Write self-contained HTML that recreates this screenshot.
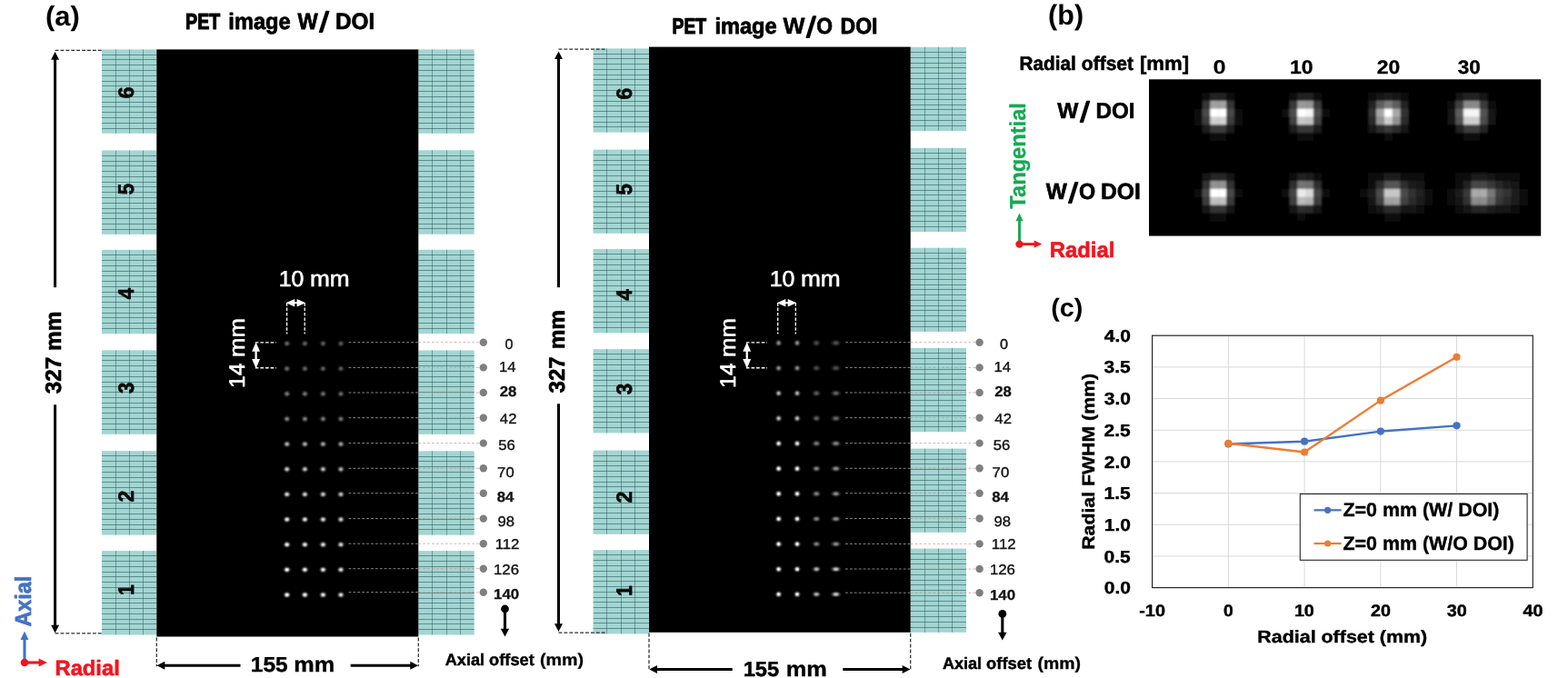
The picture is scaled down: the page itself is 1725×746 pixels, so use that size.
<!DOCTYPE html>
<html lang="en">
<head>
<meta charset="utf-8">
<title>PET image with and without DOI</title>
<style>
html,body{margin:0;padding:0;background:#fff;}
body{width:1725px;height:746px;overflow:hidden;}
svg{display:block;font-family:"Liberation Sans",sans-serif;}
</style>
</head>
<body>
<svg width="1725" height="746" viewBox="0 0 1725 746" text-rendering="geometricPrecision">
<defs><radialGradient id="g"><stop offset="0" stop-color="#fff" stop-opacity="1"/><stop offset="0.3" stop-color="#fff" stop-opacity="0.85"/><stop offset="0.6" stop-color="#fff" stop-opacity="0.32"/><stop offset="1" stop-color="#fff" stop-opacity="0"/></radialGradient><filter id="bl" x="-5%" y="-5%" width="110%" height="110%"><feGaussianBlur stdDeviation="0.9"/></filter></defs>
<rect width="1725" height="746" fill="#fff"/>
<g id="panel-a1">
<rect x="112" y="54.4" width="60.3" height="92.4" fill="#a3d5d2"/>
<path d="M112 60.5H172.3M112 65.5H172.3M112 71.5H172.3M112 77.5H172.3M112 83.5H172.3M112 89.5H172.3M112 94.5H172.3M112 100.5H172.3M112 106.5H172.3M112 112.5H172.3M112 117.5H172.3M112 123.5H172.3M112 129.5H172.3M112 135.5H172.3M112 141.5H172.3" stroke="#2b5e61" stroke-width="1" fill="none" opacity="0.6"/>
<path d="M127.5 54.4V146.8M142.5 54.4V146.8M157.5 54.4V146.8" stroke="#2b5e61" stroke-width="1" fill="none" opacity="0.5"/>
<rect x="460.3" y="54.4" width="61.4" height="92.4" fill="#a3d5d2"/>
<path d="M460.3 60.5H521.7M460.3 65.5H521.7M460.3 71.5H521.7M460.3 77.5H521.7M460.3 83.5H521.7M460.3 89.5H521.7M460.3 94.5H521.7M460.3 100.5H521.7M460.3 106.5H521.7M460.3 112.5H521.7M460.3 117.5H521.7M460.3 123.5H521.7M460.3 129.5H521.7M460.3 135.5H521.7M460.3 141.5H521.7" stroke="#2b5e61" stroke-width="1" fill="none" opacity="0.6"/>
<path d="M475.5 54.4V146.8M491.5 54.4V146.8M506.5 54.4V146.8" stroke="#2b5e61" stroke-width="1" fill="none" opacity="0.5"/>
<rect x="112" y="165.5" width="60.3" height="92.4" fill="#a3d5d2"/>
<path d="M112 171.5H172.3M112 177.5H172.3M112 182.5H172.3M112 188.5H172.3M112 194.5H172.3M112 200.5H172.3M112 205.5H172.3M112 211.5H172.3M112 217.5H172.3M112 223.5H172.3M112 229.5H172.3M112 234.5H172.3M112 240.5H172.3M112 246.5H172.3M112 252.5H172.3" stroke="#2b5e61" stroke-width="1" fill="none" opacity="0.6"/>
<path d="M127.5 165.5V257.9M142.5 165.5V257.9M157.5 165.5V257.9" stroke="#2b5e61" stroke-width="1" fill="none" opacity="0.5"/>
<rect x="460.3" y="165.3" width="61.4" height="92.4" fill="#a3d5d2"/>
<path d="M460.3 171.5H521.7M460.3 176.5H521.7M460.3 182.5H521.7M460.3 188.5H521.7M460.3 194.5H521.7M460.3 199.5H521.7M460.3 205.5H521.7M460.3 211.5H521.7M460.3 217.5H521.7M460.3 223.5H521.7M460.3 228.5H521.7M460.3 234.5H521.7M460.3 240.5H521.7M460.3 246.5H521.7M460.3 251.5H521.7" stroke="#2b5e61" stroke-width="1" fill="none" opacity="0.6"/>
<path d="M475.5 165.3V257.7M491.5 165.3V257.7M506.5 165.3V257.7" stroke="#2b5e61" stroke-width="1" fill="none" opacity="0.5"/>
<rect x="112" y="274.9" width="60.3" height="92.4" fill="#a3d5d2"/>
<path d="M112 280.5H172.3M112 286.5H172.3M112 292.5H172.3M112 298.5H172.3M112 303.5H172.3M112 309.5H172.3M112 315.5H172.3M112 321.5H172.3M112 326.5H172.3M112 332.5H172.3M112 338.5H172.3M112 344.5H172.3M112 349.5H172.3M112 355.5H172.3M112 361.5H172.3" stroke="#2b5e61" stroke-width="1" fill="none" opacity="0.6"/>
<path d="M127.5 274.9V367.3M142.5 274.9V367.3M157.5 274.9V367.3" stroke="#2b5e61" stroke-width="1" fill="none" opacity="0.5"/>
<rect x="460.3" y="274.8" width="61.4" height="92.4" fill="#a3d5d2"/>
<path d="M460.3 280.5H521.7M460.3 286.5H521.7M460.3 292.5H521.7M460.3 297.5H521.7M460.3 303.5H521.7M460.3 309.5H521.7M460.3 315.5H521.7M460.3 321.5H521.7M460.3 326.5H521.7M460.3 332.5H521.7M460.3 338.5H521.7M460.3 344.5H521.7M460.3 349.5H521.7M460.3 355.5H521.7M460.3 361.5H521.7" stroke="#2b5e61" stroke-width="1" fill="none" opacity="0.6"/>
<path d="M475.5 274.8V367.2M491.5 274.8V367.2M506.5 274.8V367.2" stroke="#2b5e61" stroke-width="1" fill="none" opacity="0.5"/>
<rect x="112" y="385.4" width="60.3" height="92.4" fill="#a3d5d2"/>
<path d="M112 391.5H172.3M112 396.5H172.3M112 402.5H172.3M112 408.5H172.3M112 414.5H172.3M112 420.5H172.3M112 425.5H172.3M112 431.5H172.3M112 437.5H172.3M112 443.5H172.3M112 448.5H172.3M112 454.5H172.3M112 460.5H172.3M112 466.5H172.3M112 472.5H172.3" stroke="#2b5e61" stroke-width="1" fill="none" opacity="0.6"/>
<path d="M127.5 385.4V477.8M142.5 385.4V477.8M157.5 385.4V477.8" stroke="#2b5e61" stroke-width="1" fill="none" opacity="0.5"/>
<rect x="460.3" y="385.5" width="61.4" height="92.4" fill="#a3d5d2"/>
<path d="M460.3 391.5H521.7M460.3 397.5H521.7M460.3 402.5H521.7M460.3 408.5H521.7M460.3 414.5H521.7M460.3 420.5H521.7M460.3 425.5H521.7M460.3 431.5H521.7M460.3 437.5H521.7M460.3 443.5H521.7M460.3 449.5H521.7M460.3 454.5H521.7M460.3 460.5H521.7M460.3 466.5H521.7M460.3 472.5H521.7" stroke="#2b5e61" stroke-width="1" fill="none" opacity="0.6"/>
<path d="M475.5 385.5V477.9M491.5 385.5V477.9M506.5 385.5V477.9" stroke="#2b5e61" stroke-width="1" fill="none" opacity="0.5"/>
<rect x="112" y="496.2" width="60.3" height="92.4" fill="#a3d5d2"/>
<path d="M112 501.5H172.3M112 507.5H172.3M112 513.5H172.3M112 519.5H172.3M112 525.5H172.3M112 530.5H172.3M112 536.5H172.3M112 542.5H172.3M112 548.5H172.3M112 553.5H172.3M112 559.5H172.3M112 565.5H172.3M112 571.5H172.3M112 577.5H172.3M112 582.5H172.3" stroke="#2b5e61" stroke-width="1" fill="none" opacity="0.6"/>
<path d="M127.5 496.2V588.6M142.5 496.2V588.6M157.5 496.2V588.6" stroke="#2b5e61" stroke-width="1" fill="none" opacity="0.5"/>
<rect x="460.3" y="496.3" width="61.4" height="92.4" fill="#a3d5d2"/>
<path d="M460.3 502.5H521.7M460.3 507.5H521.7M460.3 513.5H521.7M460.3 519.5H521.7M460.3 525.5H521.7M460.3 530.5H521.7M460.3 536.5H521.7M460.3 542.5H521.7M460.3 548.5H521.7M460.3 554.5H521.7M460.3 559.5H521.7M460.3 565.5H521.7M460.3 571.5H521.7M460.3 577.5H521.7M460.3 582.5H521.7" stroke="#2b5e61" stroke-width="1" fill="none" opacity="0.6"/>
<path d="M475.5 496.3V588.7M491.5 496.3V588.7M506.5 496.3V588.7" stroke="#2b5e61" stroke-width="1" fill="none" opacity="0.5"/>
<rect x="112" y="606.1" width="60.3" height="92.4" fill="#a3d5d2"/>
<path d="M112 611.5H172.3M112 617.5H172.3M112 623.5H172.3M112 629.5H172.3M112 634.5H172.3M112 640.5H172.3M112 646.5H172.3M112 652.5H172.3M112 658.5H172.3M112 663.5H172.3M112 669.5H172.3M112 675.5H172.3M112 681.5H172.3M112 686.5H172.3M112 692.5H172.3" stroke="#2b5e61" stroke-width="1" fill="none" opacity="0.6"/>
<path d="M127.5 606.1V698.5M142.5 606.1V698.5M157.5 606.1V698.5" stroke="#2b5e61" stroke-width="1" fill="none" opacity="0.5"/>
<rect x="460.3" y="606.1" width="61.4" height="92.4" fill="#a3d5d2"/>
<path d="M460.3 611.5H521.7M460.3 617.5H521.7M460.3 623.5H521.7M460.3 629.5H521.7M460.3 634.5H521.7M460.3 640.5H521.7M460.3 646.5H521.7M460.3 652.5H521.7M460.3 658.5H521.7M460.3 663.5H521.7M460.3 669.5H521.7M460.3 675.5H521.7M460.3 681.5H521.7M460.3 686.5H521.7M460.3 692.5H521.7" stroke="#2b5e61" stroke-width="1" fill="none" opacity="0.6"/>
<path d="M475.5 606.1V698.5M491.5 606.1V698.5M506.5 606.1V698.5" stroke="#2b5e61" stroke-width="1" fill="none" opacity="0.5"/>
<rect x="172.3" y="54.4" width="288" height="646.1" fill="#000"/>
<text transform="translate(146.97 108.34) rotate(-90)" font-size="24.15" font-weight="bold" fill="#0a0a0a" stroke="#0a0a0a" stroke-width="0.65" stroke-linejoin="round" textLength="12.85" lengthAdjust="spacingAndGlyphs">6</text>
<text transform="translate(146.94 214.31) rotate(-90)" font-size="24.4" font-weight="bold" fill="#0a0a0a" stroke="#0a0a0a" stroke-width="0.73" stroke-linejoin="round" textLength="12.38" lengthAdjust="spacingAndGlyphs">5</text>
<text transform="translate(146.93 329.16) rotate(-90)" font-size="24.38" font-weight="bold" fill="#0a0a0a" stroke="#0a0a0a" stroke-width="0.74" stroke-linejoin="round" textLength="12.33" lengthAdjust="spacingAndGlyphs">4</text>
<text transform="translate(146.94 432.94) rotate(-90)" font-size="24.05" font-weight="bold" fill="#0a0a0a" stroke="#0a0a0a" stroke-width="0.73" stroke-linejoin="round" textLength="12.38" lengthAdjust="spacingAndGlyphs">3</text>
<text transform="translate(146.98 552.49) rotate(-90)" font-size="24.17" font-weight="bold" fill="#0a0a0a" stroke="#0a0a0a" stroke-width="0.64" stroke-linejoin="round" textLength="12.93" lengthAdjust="spacingAndGlyphs">2</text>
<text transform="translate(146.87 654.75) rotate(-90)" font-size="24.21" font-weight="bold" fill="#0a0a0a" stroke="#0a0a0a" stroke-width="0.86" stroke-linejoin="round" textLength="11.41" lengthAdjust="spacingAndGlyphs">1</text>
<line x1="60.6" y1="64" x2="60.6" y2="316.2" stroke="#000" stroke-width="3"/>
<line x1="60.6" y1="445.3" x2="60.6" y2="689.5" stroke="#000" stroke-width="3"/>
<path d="M60.6 57L65.1 65.7L56.1 65.7Z" fill="#000"/>
<path d="M60.6 696.5L56.1 687.8L65.1 687.8Z" fill="#000"/>
<line x1="60.6" y1="55.4" x2="112" y2="55.4" stroke="#2e2e2e" stroke-width="1.25" stroke-dasharray="3.9 2"/>
<line x1="60.6" y1="696.9" x2="112" y2="696.9" stroke="#2e2e2e" stroke-width="1.25" stroke-dasharray="3.9 2"/>
<text transform="translate(67 433) rotate(-90)" y="0" font-weight="bold" fill="#000"><tspan x="-0.21" font-size="24.41" stroke="#000" stroke-width="0.68" stroke-linejoin="round" textLength="40.32" lengthAdjust="spacingAndGlyphs">327</tspan> <tspan x="47.04" font-size="24.44" stroke="#000" stroke-width="0.65" stroke-linejoin="round" textLength="43.42" lengthAdjust="spacingAndGlyphs">mm</tspan></text>
<line x1="172.3" y1="701.5" x2="172.3" y2="733.2" stroke="#2e2e2e" stroke-width="1.25" stroke-dasharray="3.9 2"/>
<line x1="460.3" y1="701.5" x2="460.3" y2="733.2" stroke="#2e2e2e" stroke-width="1.25" stroke-dasharray="3.9 2"/>
<line x1="179.3" y1="732.2" x2="264.5" y2="732.2" stroke="#000" stroke-width="3"/>
<line x1="385.7" y1="732.2" x2="453.3" y2="732.2" stroke="#000" stroke-width="3"/>
<path d="M172.6 732.2L181.3 727.7L181.3 736.7Z" fill="#000"/>
<path d="M460 732.2L451.3 736.7L451.3 727.7Z" fill="#000"/>
<text font-weight="bold" fill="#000"><tspan x="275.88" y="739.29" font-size="23.1" stroke="#000" stroke-width="0.42" stroke-linejoin="round" textLength="40.81" lengthAdjust="spacingAndGlyphs">155</tspan> <tspan x="323.33" y="739.33" font-size="23.21" stroke="#000" stroke-width="0.35" stroke-linejoin="round" textLength="44.93" lengthAdjust="spacingAndGlyphs">mm</tspan></text>
<line x1="383.5" y1="376.7" x2="460.3" y2="376.7" stroke="#878787" stroke-width="1" stroke-dasharray="2.9 2"/>
<line x1="460.3" y1="376.7" x2="528.8" y2="376.7" stroke="#c48a8a" stroke-width="0.9" stroke-dasharray="2.9 2" opacity="0.7"/>
<circle cx="531.8" cy="376.7" r="4.2" fill="#7f7f7f"/>
<text x="555.48" y="383.81" font-size="15.66" fill="#111" stroke="#111" stroke-width="0.38" stroke-linejoin="round" textLength="9.02" lengthAdjust="spacingAndGlyphs">0</text>
<line x1="383.5" y1="404.4" x2="460.3" y2="404.4" stroke="#878787" stroke-width="1" stroke-dasharray="2.9 2"/>
<line x1="460.3" y1="404.4" x2="528.8" y2="404.4" stroke="#c48a8a" stroke-width="0.9" stroke-dasharray="2.9 2" opacity="0.7"/>
<circle cx="531.8" cy="404.4" r="4.2" fill="#7f7f7f"/>
<text x="548.97" y="408.81" font-size="15.66" fill="#111" stroke="#111" stroke-width="0.38" stroke-linejoin="round" textLength="18.51" lengthAdjust="spacingAndGlyphs">14</text>
<line x1="383.5" y1="432" x2="460.3" y2="432" stroke="#878787" stroke-width="1" stroke-dasharray="2.9 2"/>
<line x1="460.3" y1="432" x2="528.8" y2="432" stroke="#c48a8a" stroke-width="0.9" stroke-dasharray="2.9 2" opacity="0.7"/>
<circle cx="531.8" cy="432" r="4.2" fill="#7f7f7f"/>
<text x="549.78" y="435.85" font-size="15.77" font-weight="bold" fill="#111" stroke="#111" stroke-width="0.3" stroke-linejoin="round" textLength="18.6" lengthAdjust="spacingAndGlyphs">28</text>
<line x1="383.5" y1="459.7" x2="460.3" y2="459.7" stroke="#878787" stroke-width="1" stroke-dasharray="2.9 2"/>
<line x1="460.3" y1="459.7" x2="528.8" y2="459.7" stroke="#c48a8a" stroke-width="0.9" stroke-dasharray="2.9 2" opacity="0.7"/>
<circle cx="531.8" cy="459.7" r="4.2" fill="#7f7f7f"/>
<text x="549.89" y="465.81" font-size="15.66" fill="#111" stroke="#111" stroke-width="0.38" stroke-linejoin="round" textLength="18.52" lengthAdjust="spacingAndGlyphs">42</text>
<line x1="383.5" y1="487.6" x2="460.3" y2="487.6" stroke="#878787" stroke-width="1" stroke-dasharray="2.9 2"/>
<line x1="460.3" y1="487.6" x2="528.8" y2="487.6" stroke="#c48a8a" stroke-width="0.9" stroke-dasharray="2.9 2" opacity="0.7"/>
<circle cx="531.8" cy="487.6" r="4.2" fill="#7f7f7f"/>
<text x="548.18" y="495.41" font-size="15.66" fill="#111" stroke="#111" stroke-width="0.38" stroke-linejoin="round" textLength="18.52" lengthAdjust="spacingAndGlyphs">56</text>
<line x1="383.5" y1="515.3" x2="460.3" y2="515.3" stroke="#878787" stroke-width="1" stroke-dasharray="2.9 2"/>
<line x1="460.3" y1="515.3" x2="528.8" y2="515.3" stroke="#c48a8a" stroke-width="0.9" stroke-dasharray="2.9 2" opacity="0.7"/>
<circle cx="531.8" cy="515.3" r="4.2" fill="#7f7f7f"/>
<text x="547.14" y="524.81" font-size="15.66" fill="#111" stroke="#111" stroke-width="0.38" stroke-linejoin="round" textLength="18.51" lengthAdjust="spacingAndGlyphs">70</text>
<line x1="383.5" y1="542.7" x2="460.3" y2="542.7" stroke="#878787" stroke-width="1" stroke-dasharray="2.9 2"/>
<line x1="460.3" y1="542.7" x2="528.8" y2="542.7" stroke="#c48a8a" stroke-width="0.9" stroke-dasharray="2.9 2" opacity="0.7"/>
<circle cx="531.8" cy="542.7" r="4.2" fill="#7f7f7f"/>
<text x="546.69" y="551.55" font-size="15.77" font-weight="bold" fill="#111" stroke="#111" stroke-width="0.3" stroke-linejoin="round" textLength="18.61" lengthAdjust="spacingAndGlyphs">84</text>
<line x1="383.5" y1="570.6" x2="460.3" y2="570.6" stroke="#878787" stroke-width="1" stroke-dasharray="2.9 2"/>
<line x1="460.3" y1="570.6" x2="528.8" y2="570.6" stroke="#c48a8a" stroke-width="0.9" stroke-dasharray="2.9 2" opacity="0.7"/>
<circle cx="531.8" cy="570.6" r="4.2" fill="#7f7f7f"/>
<text x="547.42" y="578.81" font-size="15.66" fill="#111" stroke="#111" stroke-width="0.38" stroke-linejoin="round" textLength="18.51" lengthAdjust="spacingAndGlyphs">98</text>
<line x1="383.5" y1="598.2" x2="460.3" y2="598.2" stroke="#878787" stroke-width="1" stroke-dasharray="2.9 2"/>
<line x1="460.3" y1="598.2" x2="528.8" y2="598.2" stroke="#c48a8a" stroke-width="0.9" stroke-dasharray="2.9 2" opacity="0.7"/>
<circle cx="531.8" cy="598.2" r="4.2" fill="#7f7f7f"/>
<text x="544.65" y="604.21" font-size="15.66" fill="#111" stroke="#111" stroke-width="0.38" stroke-linejoin="round" textLength="26.71" lengthAdjust="spacingAndGlyphs">112</text>
<line x1="383.5" y1="625.7" x2="460.3" y2="625.7" stroke="#878787" stroke-width="1" stroke-dasharray="2.9 2"/>
<line x1="460.3" y1="625.7" x2="528.8" y2="625.7" stroke="#c48a8a" stroke-width="0.9" stroke-dasharray="2.9 2" opacity="0.7"/>
<circle cx="531.8" cy="625.7" r="4.2" fill="#7f7f7f"/>
<text x="543.05" y="632.41" font-size="15.66" fill="#111" stroke="#111" stroke-width="0.38" stroke-linejoin="round" textLength="27.98" lengthAdjust="spacingAndGlyphs">126</text>
<line x1="383.5" y1="651.7" x2="460.3" y2="651.7" stroke="#878787" stroke-width="1" stroke-dasharray="2.9 2"/>
<line x1="460.3" y1="651.7" x2="528.8" y2="651.7" stroke="#c48a8a" stroke-width="0.9" stroke-dasharray="2.9 2" opacity="0.7"/>
<circle cx="531.8" cy="651.7" r="4.2" fill="#7f7f7f"/>
<text x="543.09" y="659.35" font-size="15.77" font-weight="bold" fill="#111" stroke="#111" stroke-width="0.3" stroke-linejoin="round" textLength="28.06" lengthAdjust="spacingAndGlyphs">140</text>
<ellipse cx="315.7" cy="378" rx="4.5" ry="4.3" fill="url(#g)" opacity="0.4"/>
<ellipse cx="335.4" cy="378" rx="4.5" ry="4.3" fill="url(#g)" opacity="0.38"/>
<ellipse cx="355.4" cy="378" rx="4.5" ry="4.3" fill="url(#g)" opacity="0.37"/>
<ellipse cx="375" cy="378" rx="4.5" ry="4.3" fill="url(#g)" opacity="0.35"/>
<ellipse cx="315.7" cy="405.65" rx="4.52" ry="4.28" fill="url(#g)" opacity="0.41"/>
<ellipse cx="335.4" cy="405.65" rx="4.52" ry="4.28" fill="url(#g)" opacity="0.39"/>
<ellipse cx="355.4" cy="405.65" rx="4.52" ry="4.28" fill="url(#g)" opacity="0.38"/>
<ellipse cx="375" cy="405.65" rx="4.52" ry="4.28" fill="url(#g)" opacity="0.36"/>
<ellipse cx="315.7" cy="433.3" rx="4.54" ry="4.26" fill="url(#g)" opacity="0.47"/>
<ellipse cx="335.4" cy="433.3" rx="4.54" ry="4.26" fill="url(#g)" opacity="0.45"/>
<ellipse cx="355.4" cy="433.3" rx="4.54" ry="4.26" fill="url(#g)" opacity="0.43"/>
<ellipse cx="375" cy="433.3" rx="4.54" ry="4.26" fill="url(#g)" opacity="0.41"/>
<ellipse cx="315.7" cy="460.95" rx="4.56" ry="4.24" fill="url(#g)" opacity="0.52"/>
<ellipse cx="335.4" cy="460.95" rx="4.56" ry="4.24" fill="url(#g)" opacity="0.5"/>
<ellipse cx="355.4" cy="460.95" rx="4.56" ry="4.24" fill="url(#g)" opacity="0.48"/>
<ellipse cx="375" cy="460.95" rx="4.56" ry="4.24" fill="url(#g)" opacity="0.46"/>
<ellipse cx="315.7" cy="488.6" rx="4.58" ry="4.22" fill="url(#g)" opacity="0.7"/>
<ellipse cx="335.4" cy="488.6" rx="4.58" ry="4.22" fill="url(#g)" opacity="0.67"/>
<ellipse cx="355.4" cy="488.6" rx="4.58" ry="4.22" fill="url(#g)" opacity="0.64"/>
<ellipse cx="375" cy="488.6" rx="4.58" ry="4.22" fill="url(#g)" opacity="0.62"/>
<ellipse cx="315.7" cy="516.25" rx="4.6" ry="4.2" fill="url(#g)" opacity="0.8"/>
<ellipse cx="335.4" cy="516.25" rx="4.6" ry="4.2" fill="url(#g)" opacity="0.77"/>
<ellipse cx="355.4" cy="516.25" rx="4.6" ry="4.2" fill="url(#g)" opacity="0.74"/>
<ellipse cx="375" cy="516.25" rx="4.6" ry="4.2" fill="url(#g)" opacity="0.7"/>
<ellipse cx="315.7" cy="543.9" rx="4.62" ry="4.18" fill="url(#g)" opacity="0.86"/>
<ellipse cx="335.4" cy="543.9" rx="4.62" ry="4.18" fill="url(#g)" opacity="0.83"/>
<ellipse cx="355.4" cy="543.9" rx="4.62" ry="4.18" fill="url(#g)" opacity="0.79"/>
<ellipse cx="375" cy="543.9" rx="4.62" ry="4.18" fill="url(#g)" opacity="0.76"/>
<ellipse cx="315.7" cy="571.55" rx="4.64" ry="4.16" fill="url(#g)" opacity="0.92"/>
<ellipse cx="335.4" cy="571.55" rx="4.64" ry="4.16" fill="url(#g)" opacity="0.88"/>
<ellipse cx="355.4" cy="571.55" rx="4.64" ry="4.16" fill="url(#g)" opacity="0.85"/>
<ellipse cx="375" cy="571.55" rx="4.64" ry="4.16" fill="url(#g)" opacity="0.81"/>
<ellipse cx="315.7" cy="599.2" rx="4.66" ry="4.14" fill="url(#g)" opacity="0.96"/>
<ellipse cx="335.4" cy="599.2" rx="4.66" ry="4.14" fill="url(#g)" opacity="0.92"/>
<ellipse cx="355.4" cy="599.2" rx="4.66" ry="4.14" fill="url(#g)" opacity="0.88"/>
<ellipse cx="375" cy="599.2" rx="4.66" ry="4.14" fill="url(#g)" opacity="0.84"/>
<ellipse cx="315.7" cy="626.85" rx="4.68" ry="4.12" fill="url(#g)" opacity="1"/>
<ellipse cx="335.4" cy="626.85" rx="4.68" ry="4.12" fill="url(#g)" opacity="0.96"/>
<ellipse cx="355.4" cy="626.85" rx="4.68" ry="4.12" fill="url(#g)" opacity="0.92"/>
<ellipse cx="375" cy="626.85" rx="4.68" ry="4.12" fill="url(#g)" opacity="0.88"/>
<ellipse cx="315.7" cy="654.5" rx="4.7" ry="4.1" fill="url(#g)" opacity="1"/>
<ellipse cx="335.4" cy="654.5" rx="4.7" ry="4.1" fill="url(#g)" opacity="0.96"/>
<ellipse cx="355.4" cy="654.5" rx="4.7" ry="4.1" fill="url(#g)" opacity="0.92"/>
<ellipse cx="375" cy="654.5" rx="4.7" ry="4.1" fill="url(#g)" opacity="0.88"/>
<line x1="315.6" y1="333.2" x2="315.6" y2="367.5" stroke="#fff" stroke-width="1.3" stroke-dasharray="3.6 1.8"/>
<line x1="335.2" y1="333.2" x2="335.2" y2="367.5" stroke="#fff" stroke-width="1.3" stroke-dasharray="3.6 1.8"/>
<line x1="319.6" y1="333.2" x2="331.2" y2="333.2" stroke="#fff" stroke-width="2"/>
<path d="M314.6 333.2L324.2 329L324.2 337.4Z" fill="#fff"/>
<path d="M336.2 333.2L326.6 337.4L326.6 329Z" fill="#fff"/>
<line x1="280.8" y1="376.9" x2="303.9" y2="376.9" stroke="#fff" stroke-width="1.4" stroke-dasharray="3.6 2"/>
<line x1="280.8" y1="404.8" x2="303.9" y2="404.8" stroke="#fff" stroke-width="1.4" stroke-dasharray="3.6 2"/>
<line x1="281.6" y1="382" x2="281.6" y2="400" stroke="#fff" stroke-width="2.3"/>
<path d="M281.6 376.4L286.05 386.8L277.15 386.8Z" fill="#fff"/>
<path d="M281.6 405.4L277.15 395L286.05 395Z" fill="#fff"/>
<text fill="#fff"><tspan x="306.65" y="314.99" font-size="24.4" stroke="#fff" stroke-width="0.62" stroke-linejoin="round" textLength="27.63" lengthAdjust="spacingAndGlyphs">10</tspan> <tspan x="340.9" y="315.02" font-size="24.51" stroke="#fff" stroke-width="0.55" stroke-linejoin="round" textLength="43.76" lengthAdjust="spacingAndGlyphs">mm</tspan></text>
<text transform="translate(268.5 425.4) rotate(-90)" y="0" fill="#fff"><tspan x="-1.55" font-size="24.14" stroke="#fff" stroke-width="0.61" stroke-linejoin="round" textLength="27.48" lengthAdjust="spacingAndGlyphs">14</tspan> <tspan x="32.34" font-size="24.21" stroke="#fff" stroke-width="0.55" stroke-linejoin="round" textLength="42.99" lengthAdjust="spacingAndGlyphs">mm</tspan></text>
<circle cx="555.5" cy="670" r="4.4" fill="#000"/>
<line x1="555.5" y1="670" x2="555.5" y2="694" stroke="#000" stroke-width="3.1"/>
<path d="M555.5 700.4L550.8 691.8L560.2 691.8Z" fill="#000"/>
<text font-weight="bold" fill="#000"><tspan x="489.67" y="731.78" font-size="18.11" stroke="#000" stroke-width="0.45" stroke-linejoin="round" textLength="43.49" lengthAdjust="spacingAndGlyphs">Axial</tspan> <tspan x="538.09" y="731.78" font-size="18.12" stroke="#000" stroke-width="0.44" stroke-linejoin="round" textLength="49.71" lengthAdjust="spacingAndGlyphs">offset</tspan> <tspan x="593.97" y="731.84" font-size="18.31" stroke="#000" stroke-width="0.31" stroke-linejoin="round" textLength="48.04" lengthAdjust="spacingAndGlyphs">(mm)</tspan></text>
</g>
<g id="panel-a2">
<rect x="652.6" y="53.4" width="61.4" height="92.2" fill="#a3d5d2"/>
<path d="M652.6 59.5H714M652.6 64.5H714M652.6 70.5H714M652.6 76.5H714M652.6 82.5H714M652.6 87.5H714M652.6 93.5H714M652.6 99.5H714M652.6 105.5H714M652.6 111.5H714M652.6 116.5H714M652.6 122.5H714M652.6 128.5H714M652.6 134.5H714M652.6 139.5H714" stroke="#2b5e61" stroke-width="1" fill="none" opacity="0.6"/>
<path d="M667.5 53.4V145.6M683.5 53.4V145.6M698.5 53.4V145.6" stroke="#2b5e61" stroke-width="1" fill="none" opacity="0.5"/>
<rect x="1001.7" y="51.8" width="61.3" height="92.2" fill="#a3d5d2"/>
<path d="M1001.7 57.5H1063M1001.7 63.5H1063M1001.7 69.5H1063M1001.7 74.5H1063M1001.7 80.5H1063M1001.7 86.5H1063M1001.7 92.5H1063M1001.7 97.5H1063M1001.7 103.5H1063M1001.7 109.5H1063M1001.7 115.5H1063M1001.7 120.5H1063M1001.7 126.5H1063M1001.7 132.5H1063M1001.7 138.5H1063" stroke="#2b5e61" stroke-width="1" fill="none" opacity="0.6"/>
<path d="M1017.5 51.8V144M1032.5 51.8V144M1047.5 51.8V144" stroke="#2b5e61" stroke-width="1" fill="none" opacity="0.5"/>
<rect x="652.6" y="164.6" width="61.4" height="92.2" fill="#a3d5d2"/>
<path d="M652.6 170.5H714M652.6 176.5H714M652.6 181.5H714M652.6 187.5H714M652.6 193.5H714M652.6 199.5H714M652.6 204.5H714M652.6 210.5H714M652.6 216.5H714M652.6 222.5H714M652.6 227.5H714M652.6 233.5H714M652.6 239.5H714M652.6 245.5H714M652.6 251.5H714" stroke="#2b5e61" stroke-width="1" fill="none" opacity="0.6"/>
<path d="M667.5 164.6V256.8M683.5 164.6V256.8M698.5 164.6V256.8" stroke="#2b5e61" stroke-width="1" fill="none" opacity="0.5"/>
<rect x="1001.7" y="162.9" width="61.3" height="92.2" fill="#a3d5d2"/>
<path d="M1001.7 168.5H1063M1001.7 174.5H1063M1001.7 180.5H1063M1001.7 185.5H1063M1001.7 191.5H1063M1001.7 197.5H1063M1001.7 203.5H1063M1001.7 209.5H1063M1001.7 214.5H1063M1001.7 220.5H1063M1001.7 226.5H1063M1001.7 232.5H1063M1001.7 237.5H1063M1001.7 243.5H1063M1001.7 249.5H1063" stroke="#2b5e61" stroke-width="1" fill="none" opacity="0.6"/>
<path d="M1017.5 162.9V255.1M1032.5 162.9V255.1M1047.5 162.9V255.1" stroke="#2b5e61" stroke-width="1" fill="none" opacity="0.5"/>
<rect x="652.6" y="274.1" width="61.4" height="92.2" fill="#a3d5d2"/>
<path d="M652.6 279.5H714M652.6 285.5H714M652.6 291.5H714M652.6 297.5H714M652.6 302.5H714M652.6 308.5H714M652.6 314.5H714M652.6 320.5H714M652.6 325.5H714M652.6 331.5H714M652.6 337.5H714M652.6 343.5H714M652.6 349.5H714M652.6 354.5H714M652.6 360.5H714" stroke="#2b5e61" stroke-width="1" fill="none" opacity="0.6"/>
<path d="M667.5 274.1V366.3M683.5 274.1V366.3M698.5 274.1V366.3" stroke="#2b5e61" stroke-width="1" fill="none" opacity="0.5"/>
<rect x="1001.7" y="272.7" width="61.3" height="92.2" fill="#a3d5d2"/>
<path d="M1001.7 278.5H1063M1001.7 284.5H1063M1001.7 289.5H1063M1001.7 295.5H1063M1001.7 301.5H1063M1001.7 307.5H1063M1001.7 313.5H1063M1001.7 318.5H1063M1001.7 324.5H1063M1001.7 330.5H1063M1001.7 336.5H1063M1001.7 341.5H1063M1001.7 347.5H1063M1001.7 353.5H1063M1001.7 359.5H1063" stroke="#2b5e61" stroke-width="1" fill="none" opacity="0.6"/>
<path d="M1017.5 272.7V364.9M1032.5 272.7V364.9M1047.5 272.7V364.9" stroke="#2b5e61" stroke-width="1" fill="none" opacity="0.5"/>
<rect x="652.6" y="384.2" width="61.4" height="92.2" fill="#a3d5d2"/>
<path d="M652.6 389.5H714M652.6 395.5H714M652.6 401.5H714M652.6 407.5H714M652.6 413.5H714M652.6 418.5H714M652.6 424.5H714M652.6 430.5H714M652.6 436.5H714M652.6 441.5H714M652.6 447.5H714M652.6 453.5H714M652.6 459.5H714M652.6 464.5H714M652.6 470.5H714" stroke="#2b5e61" stroke-width="1" fill="none" opacity="0.6"/>
<path d="M667.5 384.2V476.4M683.5 384.2V476.4M698.5 384.2V476.4" stroke="#2b5e61" stroke-width="1" fill="none" opacity="0.5"/>
<rect x="1001.7" y="383" width="61.3" height="92.2" fill="#a3d5d2"/>
<path d="M1001.7 388.5H1063M1001.7 394.5H1063M1001.7 400.5H1063M1001.7 406.5H1063M1001.7 411.5H1063M1001.7 417.5H1063M1001.7 423.5H1063M1001.7 429.5H1063M1001.7 434.5H1063M1001.7 440.5H1063M1001.7 446.5H1063M1001.7 452.5H1063M1001.7 457.5H1063M1001.7 463.5H1063M1001.7 469.5H1063" stroke="#2b5e61" stroke-width="1" fill="none" opacity="0.6"/>
<path d="M1017.5 383V475.2M1032.5 383V475.2M1047.5 383V475.2" stroke="#2b5e61" stroke-width="1" fill="none" opacity="0.5"/>
<rect x="652.6" y="495.6" width="61.4" height="92.2" fill="#a3d5d2"/>
<path d="M652.6 501.5H714M652.6 507.5H714M652.6 512.5H714M652.6 518.5H714M652.6 524.5H714M652.6 530.5H714M652.6 535.5H714M652.6 541.5H714M652.6 547.5H714M652.6 553.5H714M652.6 558.5H714M652.6 564.5H714M652.6 570.5H714M652.6 576.5H714M652.6 582.5H714" stroke="#2b5e61" stroke-width="1" fill="none" opacity="0.6"/>
<path d="M667.5 495.6V587.8M683.5 495.6V587.8M698.5 495.6V587.8" stroke="#2b5e61" stroke-width="1" fill="none" opacity="0.5"/>
<rect x="1001.7" y="493.6" width="61.3" height="92.2" fill="#a3d5d2"/>
<path d="M1001.7 499.5H1063M1001.7 505.5H1063M1001.7 510.5H1063M1001.7 516.5H1063M1001.7 522.5H1063M1001.7 528.5H1063M1001.7 533.5H1063M1001.7 539.5H1063M1001.7 545.5H1063M1001.7 551.5H1063M1001.7 556.5H1063M1001.7 562.5H1063M1001.7 568.5H1063M1001.7 574.5H1063M1001.7 580.5H1063" stroke="#2b5e61" stroke-width="1" fill="none" opacity="0.6"/>
<path d="M1017.5 493.6V585.8M1032.5 493.6V585.8M1047.5 493.6V585.8" stroke="#2b5e61" stroke-width="1" fill="none" opacity="0.5"/>
<rect x="652.6" y="605.2" width="61.4" height="92.2" fill="#a3d5d2"/>
<path d="M652.6 610.5H714M652.6 616.5H714M652.6 622.5H714M652.6 628.5H714M652.6 634.5H714M652.6 639.5H714M652.6 645.5H714M652.6 651.5H714M652.6 657.5H714M652.6 662.5H714M652.6 668.5H714M652.6 674.5H714M652.6 680.5H714M652.6 685.5H714M652.6 691.5H714" stroke="#2b5e61" stroke-width="1" fill="none" opacity="0.6"/>
<path d="M667.5 605.2V697.4M683.5 605.2V697.4M698.5 605.2V697.4" stroke="#2b5e61" stroke-width="1" fill="none" opacity="0.5"/>
<rect x="1001.7" y="603.6" width="61.3" height="92.2" fill="#a3d5d2"/>
<path d="M1001.7 609.5H1063M1001.7 615.5H1063M1001.7 620.5H1063M1001.7 626.5H1063M1001.7 632.5H1063M1001.7 638.5H1063M1001.7 643.5H1063M1001.7 649.5H1063M1001.7 655.5H1063M1001.7 661.5H1063M1001.7 666.5H1063M1001.7 672.5H1063M1001.7 678.5H1063M1001.7 684.5H1063M1001.7 690.5H1063" stroke="#2b5e61" stroke-width="1" fill="none" opacity="0.6"/>
<path d="M1017.5 603.6V695.8M1032.5 603.6V695.8M1047.5 603.6V695.8" stroke="#2b5e61" stroke-width="1" fill="none" opacity="0.5"/>
<rect x="714" y="51.6" width="287.7" height="644.2" fill="#000"/>
<text transform="translate(695.07 109.44) rotate(-90)" font-size="24.15" font-weight="bold" fill="#0a0a0a" stroke="#0a0a0a" stroke-width="0.65" stroke-linejoin="round" textLength="12.85" lengthAdjust="spacingAndGlyphs">6</text>
<text transform="translate(695.04 214.51) rotate(-90)" font-size="24.4" font-weight="bold" fill="#0a0a0a" stroke="#0a0a0a" stroke-width="0.73" stroke-linejoin="round" textLength="12.38" lengthAdjust="spacingAndGlyphs">5</text>
<text transform="translate(695.03 330.46) rotate(-90)" font-size="24.38" font-weight="bold" fill="#0a0a0a" stroke="#0a0a0a" stroke-width="0.74" stroke-linejoin="round" textLength="12.33" lengthAdjust="spacingAndGlyphs">4</text>
<text transform="translate(695.04 434.24) rotate(-90)" font-size="24.05" font-weight="bold" fill="#0a0a0a" stroke="#0a0a0a" stroke-width="0.73" stroke-linejoin="round" textLength="12.38" lengthAdjust="spacingAndGlyphs">3</text>
<text transform="translate(695.08 553.59) rotate(-90)" font-size="24.17" font-weight="bold" fill="#0a0a0a" stroke="#0a0a0a" stroke-width="0.64" stroke-linejoin="round" textLength="12.93" lengthAdjust="spacingAndGlyphs">2</text>
<text transform="translate(694.97 655.85) rotate(-90)" font-size="24.21" font-weight="bold" fill="#0a0a0a" stroke="#0a0a0a" stroke-width="0.86" stroke-linejoin="round" textLength="11.41" lengthAdjust="spacingAndGlyphs">1</text>
<line x1="614.5" y1="63.4" x2="614.5" y2="316.2" stroke="#000" stroke-width="3"/>
<line x1="614.5" y1="444.3" x2="614.5" y2="688" stroke="#000" stroke-width="3"/>
<path d="M614.5 56.4L619 65.1L610 65.1Z" fill="#000"/>
<path d="M614.5 695L610 686.3L619 686.3Z" fill="#000"/>
<line x1="614.5" y1="54" x2="667" y2="54" stroke="#2e2e2e" stroke-width="1.25" stroke-dasharray="3.9 2"/>
<line x1="614.5" y1="696.2" x2="667" y2="696.2" stroke="#2e2e2e" stroke-width="1.25" stroke-dasharray="3.9 2"/>
<text transform="translate(621.2 432.2) rotate(-90)" y="0" font-weight="bold" fill="#000"><tspan x="-0.19" font-size="24.38" stroke="#000" stroke-width="0.69" stroke-linejoin="round" textLength="39.99" lengthAdjust="spacingAndGlyphs">327</tspan> <tspan x="47.84" font-size="24.44" stroke="#000" stroke-width="0.65" stroke-linejoin="round" textLength="43.42" lengthAdjust="spacingAndGlyphs">mm</tspan></text>
<line x1="714" y1="696.8" x2="714" y2="737.6" stroke="#2e2e2e" stroke-width="1.25" stroke-dasharray="3.9 2"/>
<line x1="1001.7" y1="696.8" x2="1001.7" y2="737.6" stroke="#2e2e2e" stroke-width="1.25" stroke-dasharray="3.9 2"/>
<line x1="721" y1="736.6" x2="805.8" y2="736.6" stroke="#000" stroke-width="3"/>
<line x1="927.3" y1="736.6" x2="994.7" y2="736.6" stroke="#000" stroke-width="3"/>
<path d="M714.3 736.6L723 732.1L723 741.1Z" fill="#000"/>
<path d="M1001.4 736.6L992.7 741.1L992.7 732.1Z" fill="#000"/>
<text font-weight="bold" fill="#000"><tspan x="817.67" y="744.05" font-size="22.99" stroke="#000" stroke-width="0.49" stroke-linejoin="round" textLength="39.46" lengthAdjust="spacingAndGlyphs">155</tspan> <tspan x="864.72" y="744.13" font-size="23.21" stroke="#000" stroke-width="0.34" stroke-linejoin="round" textLength="45.05" lengthAdjust="spacingAndGlyphs">mm</tspan></text>
<line x1="930" y1="376.7" x2="1001.7" y2="376.7" stroke="#878787" stroke-width="1" stroke-dasharray="2.9 2"/>
<line x1="1001.7" y1="376.7" x2="1074.6" y2="376.7" stroke="#c48a8a" stroke-width="0.9" stroke-dasharray="2.9 2" opacity="0.7"/>
<circle cx="1077.6" cy="376.7" r="4.2" fill="#7f7f7f"/>
<text x="1099.98" y="383.81" font-size="15.66" fill="#111" stroke="#111" stroke-width="0.38" stroke-linejoin="round" textLength="9.02" lengthAdjust="spacingAndGlyphs">0</text>
<line x1="930" y1="404.4" x2="1001.7" y2="404.4" stroke="#878787" stroke-width="1" stroke-dasharray="2.9 2"/>
<line x1="1001.7" y1="404.4" x2="1074.6" y2="404.4" stroke="#c48a8a" stroke-width="0.9" stroke-dasharray="2.9 2" opacity="0.7"/>
<circle cx="1077.6" cy="404.4" r="4.2" fill="#7f7f7f"/>
<text x="1093.47" y="408.81" font-size="15.66" fill="#111" stroke="#111" stroke-width="0.38" stroke-linejoin="round" textLength="18.51" lengthAdjust="spacingAndGlyphs">14</text>
<line x1="930" y1="432" x2="1001.7" y2="432" stroke="#878787" stroke-width="1" stroke-dasharray="2.9 2"/>
<line x1="1001.7" y1="432" x2="1074.6" y2="432" stroke="#c48a8a" stroke-width="0.9" stroke-dasharray="2.9 2" opacity="0.7"/>
<circle cx="1077.6" cy="432" r="4.2" fill="#7f7f7f"/>
<text x="1094.28" y="435.85" font-size="15.77" font-weight="bold" fill="#111" stroke="#111" stroke-width="0.3" stroke-linejoin="round" textLength="18.6" lengthAdjust="spacingAndGlyphs">28</text>
<line x1="930" y1="459.7" x2="1001.7" y2="459.7" stroke="#878787" stroke-width="1" stroke-dasharray="2.9 2"/>
<line x1="1001.7" y1="459.7" x2="1074.6" y2="459.7" stroke="#c48a8a" stroke-width="0.9" stroke-dasharray="2.9 2" opacity="0.7"/>
<circle cx="1077.6" cy="459.7" r="4.2" fill="#7f7f7f"/>
<text x="1094.39" y="465.81" font-size="15.66" fill="#111" stroke="#111" stroke-width="0.38" stroke-linejoin="round" textLength="18.52" lengthAdjust="spacingAndGlyphs">42</text>
<line x1="930" y1="487.6" x2="1001.7" y2="487.6" stroke="#878787" stroke-width="1" stroke-dasharray="2.9 2"/>
<line x1="1001.7" y1="487.6" x2="1074.6" y2="487.6" stroke="#c48a8a" stroke-width="0.9" stroke-dasharray="2.9 2" opacity="0.7"/>
<circle cx="1077.6" cy="487.6" r="4.2" fill="#7f7f7f"/>
<text x="1092.68" y="495.41" font-size="15.66" fill="#111" stroke="#111" stroke-width="0.38" stroke-linejoin="round" textLength="18.52" lengthAdjust="spacingAndGlyphs">56</text>
<line x1="930" y1="515.3" x2="1001.7" y2="515.3" stroke="#878787" stroke-width="1" stroke-dasharray="2.9 2"/>
<line x1="1001.7" y1="515.3" x2="1074.6" y2="515.3" stroke="#c48a8a" stroke-width="0.9" stroke-dasharray="2.9 2" opacity="0.7"/>
<circle cx="1077.6" cy="515.3" r="4.2" fill="#7f7f7f"/>
<text x="1091.64" y="524.81" font-size="15.66" fill="#111" stroke="#111" stroke-width="0.38" stroke-linejoin="round" textLength="18.51" lengthAdjust="spacingAndGlyphs">70</text>
<line x1="930" y1="542.7" x2="1001.7" y2="542.7" stroke="#878787" stroke-width="1" stroke-dasharray="2.9 2"/>
<line x1="1001.7" y1="542.7" x2="1074.6" y2="542.7" stroke="#c48a8a" stroke-width="0.9" stroke-dasharray="2.9 2" opacity="0.7"/>
<circle cx="1077.6" cy="542.7" r="4.2" fill="#7f7f7f"/>
<text x="1091.19" y="551.55" font-size="15.77" font-weight="bold" fill="#111" stroke="#111" stroke-width="0.3" stroke-linejoin="round" textLength="18.61" lengthAdjust="spacingAndGlyphs">84</text>
<line x1="930" y1="570.5" x2="1001.7" y2="570.5" stroke="#878787" stroke-width="1" stroke-dasharray="2.9 2"/>
<line x1="1001.7" y1="570.5" x2="1074.6" y2="570.5" stroke="#c48a8a" stroke-width="0.9" stroke-dasharray="2.9 2" opacity="0.7"/>
<circle cx="1077.6" cy="570.5" r="4.2" fill="#7f7f7f"/>
<text x="1093.52" y="578.81" font-size="15.66" fill="#111" stroke="#111" stroke-width="0.38" stroke-linejoin="round" textLength="18.51" lengthAdjust="spacingAndGlyphs">98</text>
<line x1="930" y1="598.4" x2="1001.7" y2="598.4" stroke="#878787" stroke-width="1" stroke-dasharray="2.9 2"/>
<line x1="1001.7" y1="598.4" x2="1074.6" y2="598.4" stroke="#c48a8a" stroke-width="0.9" stroke-dasharray="2.9 2" opacity="0.7"/>
<circle cx="1077.6" cy="598.4" r="4.2" fill="#7f7f7f"/>
<text x="1090.85" y="604.21" font-size="15.66" fill="#111" stroke="#111" stroke-width="0.38" stroke-linejoin="round" textLength="26.71" lengthAdjust="spacingAndGlyphs">112</text>
<line x1="930" y1="626" x2="1001.7" y2="626" stroke="#878787" stroke-width="1" stroke-dasharray="2.9 2"/>
<line x1="1001.7" y1="626" x2="1074.6" y2="626" stroke="#c48a8a" stroke-width="0.9" stroke-dasharray="2.9 2" opacity="0.7"/>
<circle cx="1077.6" cy="626" r="4.2" fill="#7f7f7f"/>
<text x="1088.95" y="632.41" font-size="15.66" fill="#111" stroke="#111" stroke-width="0.38" stroke-linejoin="round" textLength="27.98" lengthAdjust="spacingAndGlyphs">126</text>
<line x1="930" y1="652.2" x2="1001.7" y2="652.2" stroke="#878787" stroke-width="1" stroke-dasharray="2.9 2"/>
<line x1="1001.7" y1="652.2" x2="1074.6" y2="652.2" stroke="#c48a8a" stroke-width="0.9" stroke-dasharray="2.9 2" opacity="0.7"/>
<circle cx="1077.6" cy="652.2" r="4.2" fill="#7f7f7f"/>
<text x="1088.99" y="659.55" font-size="15.77" font-weight="bold" fill="#111" stroke="#111" stroke-width="0.3" stroke-linejoin="round" textLength="28.06" lengthAdjust="spacingAndGlyphs">140</text>
<ellipse cx="856.6" cy="377.4" rx="4.3" ry="4.4" fill="url(#g)" opacity="0.55"/>
<ellipse cx="877" cy="377.4" rx="4.3" ry="4.4" fill="url(#g)" opacity="0.55"/>
<ellipse cx="898.2" cy="377.4" rx="5.4" ry="4.4" fill="url(#g)" opacity="0.29"/>
<ellipse cx="919.6" cy="377.4" rx="6.4" ry="4.4" fill="url(#g)" opacity="0.31"/>
<ellipse cx="856.6" cy="405.05" rx="4.3" ry="4.37" fill="url(#g)" opacity="0.55"/>
<ellipse cx="877" cy="405.05" rx="4.3" ry="4.37" fill="url(#g)" opacity="0.55"/>
<ellipse cx="898.2" cy="405.05" rx="5.4" ry="4.35" fill="url(#g)" opacity="0.29"/>
<ellipse cx="919.6" cy="405.05" rx="6.4" ry="4.34" fill="url(#g)" opacity="0.31"/>
<ellipse cx="856.6" cy="432.7" rx="4.3" ry="4.34" fill="url(#g)" opacity="0.7"/>
<ellipse cx="877" cy="432.7" rx="4.3" ry="4.34" fill="url(#g)" opacity="0.7"/>
<ellipse cx="898.2" cy="432.7" rx="5.4" ry="4.3" fill="url(#g)" opacity="0.36"/>
<ellipse cx="919.6" cy="432.7" rx="6.4" ry="4.28" fill="url(#g)" opacity="0.39"/>
<ellipse cx="856.6" cy="460.35" rx="4.3" ry="4.31" fill="url(#g)" opacity="0.75"/>
<ellipse cx="877" cy="460.35" rx="4.3" ry="4.31" fill="url(#g)" opacity="0.75"/>
<ellipse cx="898.2" cy="460.35" rx="5.4" ry="4.25" fill="url(#g)" opacity="0.39"/>
<ellipse cx="919.6" cy="460.35" rx="6.4" ry="4.22" fill="url(#g)" opacity="0.42"/>
<ellipse cx="856.6" cy="488" rx="4.3" ry="4.28" fill="url(#g)" opacity="0.95"/>
<ellipse cx="877" cy="488" rx="4.3" ry="4.28" fill="url(#g)" opacity="0.95"/>
<ellipse cx="898.2" cy="488" rx="5.4" ry="4.2" fill="url(#g)" opacity="0.49"/>
<ellipse cx="919.6" cy="488" rx="6.4" ry="4.16" fill="url(#g)" opacity="0.53"/>
<ellipse cx="856.6" cy="515.65" rx="4.3" ry="4.25" fill="url(#g)" opacity="1"/>
<ellipse cx="877" cy="515.65" rx="4.3" ry="4.25" fill="url(#g)" opacity="1"/>
<ellipse cx="898.2" cy="515.65" rx="5.4" ry="4.15" fill="url(#g)" opacity="0.52"/>
<ellipse cx="919.6" cy="515.65" rx="6.4" ry="4.1" fill="url(#g)" opacity="0.56"/>
<ellipse cx="856.6" cy="543.3" rx="4.3" ry="4.22" fill="url(#g)" opacity="1"/>
<ellipse cx="877" cy="543.3" rx="4.3" ry="4.22" fill="url(#g)" opacity="1"/>
<ellipse cx="898.2" cy="543.3" rx="5.4" ry="4.1" fill="url(#g)" opacity="0.52"/>
<ellipse cx="919.6" cy="543.3" rx="6.4" ry="4.04" fill="url(#g)" opacity="0.56"/>
<ellipse cx="856.6" cy="570.95" rx="4.3" ry="4.19" fill="url(#g)" opacity="1"/>
<ellipse cx="877" cy="570.95" rx="4.3" ry="4.19" fill="url(#g)" opacity="1"/>
<ellipse cx="898.2" cy="570.95" rx="5.4" ry="4.05" fill="url(#g)" opacity="0.52"/>
<ellipse cx="919.6" cy="570.95" rx="6.4" ry="3.98" fill="url(#g)" opacity="0.56"/>
<ellipse cx="856.6" cy="598.6" rx="4.3" ry="4.16" fill="url(#g)" opacity="1"/>
<ellipse cx="877" cy="598.6" rx="4.3" ry="4.16" fill="url(#g)" opacity="1"/>
<ellipse cx="898.2" cy="598.6" rx="5.4" ry="4" fill="url(#g)" opacity="0.52"/>
<ellipse cx="919.6" cy="598.6" rx="6.4" ry="3.92" fill="url(#g)" opacity="0.56"/>
<ellipse cx="856.6" cy="626.25" rx="4.3" ry="4.13" fill="url(#g)" opacity="1"/>
<ellipse cx="877" cy="626.25" rx="4.3" ry="4.13" fill="url(#g)" opacity="1"/>
<ellipse cx="898.2" cy="626.25" rx="5.4" ry="3.95" fill="url(#g)" opacity="0.72"/>
<ellipse cx="919.6" cy="626.25" rx="6.4" ry="3.86" fill="url(#g)" opacity="0.8"/>
<ellipse cx="856.6" cy="653.9" rx="4.3" ry="4.1" fill="url(#g)" opacity="1"/>
<ellipse cx="877" cy="653.9" rx="4.3" ry="4.1" fill="url(#g)" opacity="1"/>
<ellipse cx="898.2" cy="653.9" rx="5.4" ry="3.9" fill="url(#g)" opacity="0.72"/>
<ellipse cx="919.6" cy="653.9" rx="6.4" ry="3.8" fill="url(#g)" opacity="0.8"/>
<line x1="855.7" y1="333.2" x2="855.7" y2="367.5" stroke="#fff" stroke-width="1.3" stroke-dasharray="3.6 1.8"/>
<line x1="875.3" y1="333.2" x2="875.3" y2="367.5" stroke="#fff" stroke-width="1.3" stroke-dasharray="3.6 1.8"/>
<line x1="859.7" y1="333.2" x2="871.3" y2="333.2" stroke="#fff" stroke-width="2"/>
<path d="M854.7 333.2L864.3 329L864.3 337.4Z" fill="#fff"/>
<path d="M876.3 333.2L866.7 337.4L866.7 329Z" fill="#fff"/>
<line x1="820.9" y1="376.9" x2="844" y2="376.9" stroke="#fff" stroke-width="1.4" stroke-dasharray="3.6 2"/>
<line x1="820.9" y1="404.8" x2="844" y2="404.8" stroke="#fff" stroke-width="1.4" stroke-dasharray="3.6 2"/>
<line x1="821.7" y1="382" x2="821.7" y2="400" stroke="#fff" stroke-width="2.3"/>
<path d="M821.7 376.4L826.15 386.8L817.25 386.8Z" fill="#fff"/>
<path d="M821.7 405.4L817.25 395L826.15 395Z" fill="#fff"/>
<text fill="#fff"><tspan x="846.75" y="314.99" font-size="24.4" stroke="#fff" stroke-width="0.62" stroke-linejoin="round" textLength="27.63" lengthAdjust="spacingAndGlyphs">10</tspan> <tspan x="881" y="315.02" font-size="24.51" stroke="#fff" stroke-width="0.55" stroke-linejoin="round" textLength="43.76" lengthAdjust="spacingAndGlyphs">mm</tspan></text>
<text transform="translate(808.6 425.4) rotate(-90)" y="0" fill="#fff"><tspan x="-1.55" font-size="24.14" stroke="#fff" stroke-width="0.61" stroke-linejoin="round" textLength="27.48" lengthAdjust="spacingAndGlyphs">14</tspan> <tspan x="32.34" font-size="24.21" stroke="#fff" stroke-width="0.55" stroke-linejoin="round" textLength="42.99" lengthAdjust="spacingAndGlyphs">mm</tspan></text>
<circle cx="1102.8" cy="675.4" r="4.4" fill="#000"/>
<line x1="1102.8" y1="675.4" x2="1102.8" y2="698" stroke="#000" stroke-width="3.1"/>
<path d="M1102.8 704.4L1098.1 695.8L1107.5 695.8Z" fill="#000"/>
<text font-weight="bold" fill="#000"><tspan x="1036.88" y="735.77" font-size="18.1" stroke="#000" stroke-width="0.46" stroke-linejoin="round" textLength="43.16" lengthAdjust="spacingAndGlyphs">Axial</tspan> <tspan x="1085.08" y="735.78" font-size="18.13" stroke="#000" stroke-width="0.44" stroke-linejoin="round" textLength="49.92" lengthAdjust="spacingAndGlyphs">offset</tspan> <tspan x="1141.59" y="735.83" font-size="18.28" stroke="#000" stroke-width="0.33" stroke-linejoin="round" textLength="47.5" lengthAdjust="spacingAndGlyphs">(mm)</tspan></text>
</g>
<text x="50.05" y="28.2" font-size="30.33" font-weight="bold" fill="#000" textLength="37.89" lengthAdjust="spacingAndGlyphs">(a)</text>
<text font-weight="bold" fill="#000"><tspan x="204.05" y="31.52" font-size="24.51" stroke="#000" stroke-width="1.15" stroke-linejoin="round" textLength="38.17" lengthAdjust="spacingAndGlyphs">PET</tspan> <tspan x="251.35" y="31.7" font-size="25.02" stroke="#000" stroke-width="0.8" stroke-linejoin="round" textLength="68.23" lengthAdjust="spacingAndGlyphs">image</tspan> <tspan x="327.42" y="31.73" font-size="25.09" stroke="#000" stroke-width="0.75" stroke-linejoin="round" textLength="22.24" lengthAdjust="spacingAndGlyphs">W</tspan><tspan x="351.48" y="35.21" font-weight="normal" font-size="31.22" stroke="#000" stroke-width="1.35" stroke-linejoin="round" textLength="10.26" lengthAdjust="spacingAndGlyphs">/</tspan> <tspan x="369.01" y="31.75" font-size="25.15" stroke="#000" stroke-width="0.71" stroke-linejoin="round" textLength="43.29" lengthAdjust="spacingAndGlyphs">DOI</tspan></text>
<text font-weight="bold" fill="#000"><tspan x="739.46" y="36.53" font-size="24.24" stroke="#000" stroke-width="1.14" stroke-linejoin="round" textLength="37.76" lengthAdjust="spacingAndGlyphs">PET</tspan> <tspan x="786.43" y="36.72" font-size="24.78" stroke="#000" stroke-width="0.76" stroke-linejoin="round" textLength="68.27" lengthAdjust="spacingAndGlyphs">image</tspan> <tspan x="861.42" y="36.82" font-size="25.08" stroke="#000" stroke-width="0.56" stroke-linejoin="round" textLength="23.94" lengthAdjust="spacingAndGlyphs">W</tspan><tspan x="887.17" y="41.01" font-weight="normal" font-size="31.77" stroke="#000" stroke-width="1.35" stroke-linejoin="round" textLength="10.16" lengthAdjust="spacingAndGlyphs">/</tspan><tspan x="898.37" y="36.72" font-size="24.78" stroke="#000" stroke-width="0.76" stroke-linejoin="round" textLength="17.73" lengthAdjust="spacingAndGlyphs">O</tspan> <tspan x="924.55" y="36.7" font-size="24.73" stroke="#000" stroke-width="0.8" stroke-linejoin="round" textLength="40.92" lengthAdjust="spacingAndGlyphs">DOI</tspan></text>
<line x1="27" y1="728" x2="27" y2="702.5" stroke="#4472c4" stroke-width="3.1"/>
<path d="M27 694.6L31.5 704L22.5 704Z" fill="#4472c4"/>
<line x1="27" y1="729" x2="44.5" y2="729" stroke="#f3141e" stroke-width="3.1"/>
<path d="M52 729L42.6 733.5L42.6 724.5Z" fill="#f3141e"/>
<circle cx="27" cy="729" r="4.3" fill="#f3141e"/>
<text transform="translate(33.51 689.49) rotate(-90)" font-size="24.75" font-weight="bold" fill="#4472c4" stroke="#4472c4" stroke-width="0.78" stroke-linejoin="round" textLength="55.74" lengthAdjust="spacingAndGlyphs">Axial</text>
<text x="60.49" y="743.11" font-size="23.59" font-weight="bold" fill="#f3141e" stroke="#f3141e" stroke-width="0.58" stroke-linejoin="round" textLength="71.31" lengthAdjust="spacingAndGlyphs">Radial</text>
<text x="1153.07" y="27.3" font-size="30.9" font-weight="bold" fill="#000" textLength="39.04" lengthAdjust="spacingAndGlyphs">(b)</text>
<text font-weight="bold" fill="#000"><tspan x="1121.5" y="77.2" font-size="21.24" stroke="#000" stroke-width="0.6" stroke-linejoin="round" textLength="62.17" lengthAdjust="spacingAndGlyphs">Radial</tspan> <tspan x="1189.85" y="77.21" font-size="21.28" stroke="#000" stroke-width="0.57" stroke-linejoin="round" textLength="57.12" lengthAdjust="spacingAndGlyphs">offset</tspan> <tspan x="1253.91" y="77.27" font-size="21.44" stroke="#000" stroke-width="0.46" stroke-linejoin="round" textLength="54.16" lengthAdjust="spacingAndGlyphs">[mm]</tspan></text>
<text x="1334.43" y="80.75" font-size="21.36" font-weight="bold" fill="#000" stroke="#000" stroke-width="0.1" stroke-linejoin="round" textLength="14.17" lengthAdjust="spacingAndGlyphs">0</text>
<text x="1418.93" y="80.64" font-size="21.03" font-weight="bold" fill="#000" stroke="#000" stroke-width="0.33" stroke-linejoin="round" textLength="25.58" lengthAdjust="spacingAndGlyphs">10</text>
<text x="1514.87" y="80.63" font-size="21.01" font-weight="bold" fill="#000" stroke="#000" stroke-width="0.34" stroke-linejoin="round" textLength="25.42" lengthAdjust="spacingAndGlyphs">20</text>
<text x="1603.68" y="80.61" font-size="20.97" font-weight="bold" fill="#000" stroke="#000" stroke-width="0.37" stroke-linejoin="round" textLength="25.09" lengthAdjust="spacingAndGlyphs">30</text>
<text font-weight="bold" fill="#000"><tspan x="1163.22" y="130.12" font-size="24.36" stroke="#000" stroke-width="0.56" stroke-linejoin="round" textLength="23.14" lengthAdjust="spacingAndGlyphs">W</tspan><tspan x="1188.58" y="133.61" font-weight="normal" font-size="31.09" stroke="#000" stroke-width="1.35" stroke-linejoin="round" textLength="9.96" lengthAdjust="spacingAndGlyphs">/</tspan> <tspan x="1205.47" y="130.1" font-size="24.28" stroke="#000" stroke-width="0.61" stroke-linejoin="round" textLength="43.08" lengthAdjust="spacingAndGlyphs">DOI</tspan></text>
<text font-weight="bold" fill="#000"><tspan x="1150.85" y="219.49" font-size="24.84" stroke="#000" stroke-width="0.62" stroke-linejoin="round" textLength="23.07" lengthAdjust="spacingAndGlyphs">W</tspan><tspan x="1175.67" y="222.82" font-weight="normal" font-size="30.95" stroke="#000" stroke-width="1.35" stroke-linejoin="round" textLength="9.96" lengthAdjust="spacingAndGlyphs">/</tspan><tspan x="1186.92" y="219.45" font-size="24.72" stroke="#000" stroke-width="0.7" stroke-linejoin="round" textLength="18.13" lengthAdjust="spacingAndGlyphs">O</tspan> <tspan x="1210.95" y="219.48" font-size="24.82" stroke="#000" stroke-width="0.63" stroke-linejoin="round" textLength="43.8" lengthAdjust="spacingAndGlyphs">DOI</tspan></text>
<rect x="1264" y="87.3" width="431.2" height="172.3" fill="#000"/>
<g filter="url(#bl)">
<rect x="1322.45" y="102" width="9.25" height="9.25" fill="rgb(16,16,16)"/>
<rect x="1331.3" y="102" width="9.25" height="9.25" fill="rgb(35,35,35)"/>
<rect x="1340.15" y="102" width="9.25" height="9.25" fill="rgb(35,35,35)"/>
<rect x="1349" y="102" width="9.25" height="9.25" fill="rgb(16,16,16)"/>
<rect x="1322.45" y="110.85" width="9.25" height="9.25" fill="rgb(53,53,53)"/>
<rect x="1331.3" y="110.85" width="9.25" height="9.25" fill="rgb(161,161,161)"/>
<rect x="1340.15" y="110.85" width="9.25" height="9.25" fill="rgb(161,161,161)"/>
<rect x="1349" y="110.85" width="9.25" height="9.25" fill="rgb(53,53,53)"/>
<rect x="1313.6" y="119.7" width="9.25" height="9.25" fill="rgb(11,11,11)"/>
<rect x="1322.45" y="119.7" width="9.25" height="9.25" fill="rgb(72,72,72)"/>
<rect x="1331.3" y="119.7" width="9.25" height="9.25" fill="rgb(255,255,255)"/>
<rect x="1340.15" y="119.7" width="9.25" height="9.25" fill="rgb(255,255,255)"/>
<rect x="1349" y="119.7" width="9.25" height="9.25" fill="rgb(72,72,72)"/>
<rect x="1357.85" y="119.7" width="9.25" height="9.25" fill="rgb(11,11,11)"/>
<rect x="1313.6" y="128.55" width="9.25" height="9.25" fill="rgb(9,9,9)"/>
<rect x="1322.45" y="128.55" width="9.25" height="9.25" fill="rgb(62,62,62)"/>
<rect x="1331.3" y="128.55" width="9.25" height="9.25" fill="rgb(209,209,209)"/>
<rect x="1340.15" y="128.55" width="9.25" height="9.25" fill="rgb(209,209,209)"/>
<rect x="1349" y="128.55" width="9.25" height="9.25" fill="rgb(62,62,62)"/>
<rect x="1357.85" y="128.55" width="9.25" height="9.25" fill="rgb(9,9,9)"/>
<rect x="1322.45" y="137.4" width="9.25" height="9.25" fill="rgb(28,28,28)"/>
<rect x="1331.3" y="137.4" width="9.25" height="9.25" fill="rgb(59,59,59)"/>
<rect x="1340.15" y="137.4" width="9.25" height="9.25" fill="rgb(59,59,59)"/>
<rect x="1349" y="137.4" width="9.25" height="9.25" fill="rgb(28,28,28)"/>
<rect x="1331.3" y="146.25" width="9.25" height="9.25" fill="rgb(11,11,11)"/>
<rect x="1340.15" y="146.25" width="9.25" height="9.25" fill="rgb(11,11,11)"/>
<rect x="1418.3" y="102" width="9.25" height="9.25" fill="rgb(16,16,16)"/>
<rect x="1427.15" y="102" width="9.25" height="9.25" fill="rgb(33,33,33)"/>
<rect x="1436" y="102" width="9.25" height="9.25" fill="rgb(32,32,32)"/>
<rect x="1444.85" y="102" width="9.25" height="9.25" fill="rgb(16,16,16)"/>
<rect x="1418.3" y="110.85" width="9.25" height="9.25" fill="rgb(56,56,56)"/>
<rect x="1427.15" y="110.85" width="9.25" height="9.25" fill="rgb(153,153,153)"/>
<rect x="1436" y="110.85" width="9.25" height="9.25" fill="rgb(149,149,149)"/>
<rect x="1444.85" y="110.85" width="9.25" height="9.25" fill="rgb(56,56,56)"/>
<rect x="1409.45" y="119.7" width="9.25" height="9.25" fill="rgb(10,10,10)"/>
<rect x="1418.3" y="119.7" width="9.25" height="9.25" fill="rgb(77,77,77)"/>
<rect x="1427.15" y="119.7" width="9.25" height="9.25" fill="rgb(255,255,255)"/>
<rect x="1436" y="119.7" width="9.25" height="9.25" fill="rgb(245,245,245)"/>
<rect x="1444.85" y="119.7" width="9.25" height="9.25" fill="rgb(77,77,77)"/>
<rect x="1453.7" y="119.7" width="9.25" height="9.25" fill="rgb(10,10,10)"/>
<rect x="1418.3" y="128.55" width="9.25" height="9.25" fill="rgb(65,65,65)"/>
<rect x="1427.15" y="128.55" width="9.25" height="9.25" fill="rgb(199,199,199)"/>
<rect x="1436" y="128.55" width="9.25" height="9.25" fill="rgb(194,194,194)"/>
<rect x="1444.85" y="128.55" width="9.25" height="9.25" fill="rgb(65,65,65)"/>
<rect x="1418.3" y="137.4" width="9.25" height="9.25" fill="rgb(28,28,28)"/>
<rect x="1427.15" y="137.4" width="9.25" height="9.25" fill="rgb(56,56,56)"/>
<rect x="1436" y="137.4" width="9.25" height="9.25" fill="rgb(55,55,55)"/>
<rect x="1444.85" y="137.4" width="9.25" height="9.25" fill="rgb(28,28,28)"/>
<rect x="1427.15" y="146.25" width="9.25" height="9.25" fill="rgb(10,10,10)"/>
<rect x="1436" y="146.25" width="9.25" height="9.25" fill="rgb(10,10,10)"/>
<rect x="1505.17" y="102" width="9.25" height="9.25" fill="rgb(12,12,12)"/>
<rect x="1514.03" y="102" width="9.25" height="9.25" fill="rgb(24,24,24)"/>
<rect x="1522.88" y="102" width="9.25" height="9.25" fill="rgb(31,31,31)"/>
<rect x="1531.73" y="102" width="9.25" height="9.25" fill="rgb(24,24,24)"/>
<rect x="1540.58" y="102" width="9.25" height="9.25" fill="rgb(12,12,12)"/>
<rect x="1505.17" y="110.85" width="9.25" height="9.25" fill="rgb(33,33,33)"/>
<rect x="1514.03" y="110.85" width="9.25" height="9.25" fill="rgb(95,95,95)"/>
<rect x="1522.88" y="110.85" width="9.25" height="9.25" fill="rgb(122,122,122)"/>
<rect x="1531.73" y="110.85" width="9.25" height="9.25" fill="rgb(95,95,95)"/>
<rect x="1540.58" y="110.85" width="9.25" height="9.25" fill="rgb(33,33,33)"/>
<rect x="1505.17" y="119.7" width="9.25" height="9.25" fill="rgb(51,51,51)"/>
<rect x="1514.03" y="119.7" width="9.25" height="9.25" fill="rgb(168,168,168)"/>
<rect x="1522.88" y="119.7" width="9.25" height="9.25" fill="rgb(255,255,255)"/>
<rect x="1531.73" y="119.7" width="9.25" height="9.25" fill="rgb(168,168,168)"/>
<rect x="1540.58" y="119.7" width="9.25" height="9.25" fill="rgb(51,51,51)"/>
<rect x="1505.17" y="128.55" width="9.25" height="9.25" fill="rgb(44,44,44)"/>
<rect x="1514.03" y="128.55" width="9.25" height="9.25" fill="rgb(146,146,146)"/>
<rect x="1522.88" y="128.55" width="9.25" height="9.25" fill="rgb(204,204,204)"/>
<rect x="1531.73" y="128.55" width="9.25" height="9.25" fill="rgb(146,146,146)"/>
<rect x="1540.58" y="128.55" width="9.25" height="9.25" fill="rgb(44,44,44)"/>
<rect x="1505.17" y="137.4" width="9.25" height="9.25" fill="rgb(22,22,22)"/>
<rect x="1514.03" y="137.4" width="9.25" height="9.25" fill="rgb(43,43,43)"/>
<rect x="1522.88" y="137.4" width="9.25" height="9.25" fill="rgb(56,56,56)"/>
<rect x="1531.73" y="137.4" width="9.25" height="9.25" fill="rgb(43,43,43)"/>
<rect x="1540.58" y="137.4" width="9.25" height="9.25" fill="rgb(22,22,22)"/>
<rect x="1522.88" y="146.25" width="9.25" height="9.25" fill="rgb(10,10,10)"/>
<rect x="1601.2" y="102" width="9.25" height="9.25" fill="rgb(19,19,19)"/>
<rect x="1610.05" y="102" width="9.25" height="9.25" fill="rgb(34,34,34)"/>
<rect x="1618.9" y="102" width="9.25" height="9.25" fill="rgb(34,34,34)"/>
<rect x="1627.75" y="102" width="9.25" height="9.25" fill="rgb(18,18,18)"/>
<rect x="1592.35" y="110.85" width="9.25" height="9.25" fill="rgb(14,14,14)"/>
<rect x="1601.2" y="110.85" width="9.25" height="9.25" fill="rgb(65,65,65)"/>
<rect x="1610.05" y="110.85" width="9.25" height="9.25" fill="rgb(137,137,137)"/>
<rect x="1618.9" y="110.85" width="9.25" height="9.25" fill="rgb(137,137,137)"/>
<rect x="1627.75" y="110.85" width="9.25" height="9.25" fill="rgb(58,58,58)"/>
<rect x="1636.6" y="110.85" width="9.25" height="9.25" fill="rgb(14,14,14)"/>
<rect x="1592.35" y="119.7" width="9.25" height="9.25" fill="rgb(20,20,20)"/>
<rect x="1601.2" y="119.7" width="9.25" height="9.25" fill="rgb(93,93,93)"/>
<rect x="1610.05" y="119.7" width="9.25" height="9.25" fill="rgb(245,245,245)"/>
<rect x="1618.9" y="119.7" width="9.25" height="9.25" fill="rgb(245,245,245)"/>
<rect x="1627.75" y="119.7" width="9.25" height="9.25" fill="rgb(83,83,83)"/>
<rect x="1636.6" y="119.7" width="9.25" height="9.25" fill="rgb(20,20,20)"/>
<rect x="1592.35" y="128.55" width="9.25" height="9.25" fill="rgb(18,18,18)"/>
<rect x="1601.2" y="128.55" width="9.25" height="9.25" fill="rgb(83,83,83)"/>
<rect x="1610.05" y="128.55" width="9.25" height="9.25" fill="rgb(206,206,206)"/>
<rect x="1618.9" y="128.55" width="9.25" height="9.25" fill="rgb(206,206,206)"/>
<rect x="1627.75" y="128.55" width="9.25" height="9.25" fill="rgb(75,75,75)"/>
<rect x="1636.6" y="128.55" width="9.25" height="9.25" fill="rgb(18,18,18)"/>
<rect x="1601.2" y="137.4" width="9.25" height="9.25" fill="rgb(34,34,34)"/>
<rect x="1610.05" y="137.4" width="9.25" height="9.25" fill="rgb(61,61,61)"/>
<rect x="1618.9" y="137.4" width="9.25" height="9.25" fill="rgb(61,61,61)"/>
<rect x="1627.75" y="137.4" width="9.25" height="9.25" fill="rgb(32,32,32)"/>
<rect x="1610.05" y="146.25" width="9.25" height="9.25" fill="rgb(12,12,12)"/>
<rect x="1618.9" y="146.25" width="9.25" height="9.25" fill="rgb(12,12,12)"/>
<rect x="1322.45" y="190.2" width="9.25" height="9.25" fill="rgb(18,18,18)"/>
<rect x="1331.3" y="190.2" width="9.25" height="9.25" fill="rgb(37,37,37)"/>
<rect x="1340.15" y="190.2" width="9.25" height="9.25" fill="rgb(37,37,37)"/>
<rect x="1349" y="190.2" width="9.25" height="9.25" fill="rgb(18,18,18)"/>
<rect x="1322.45" y="199.05" width="9.25" height="9.25" fill="rgb(50,50,50)"/>
<rect x="1331.3" y="199.05" width="9.25" height="9.25" fill="rgb(147,147,147)"/>
<rect x="1340.15" y="199.05" width="9.25" height="9.25" fill="rgb(147,147,147)"/>
<rect x="1349" y="199.05" width="9.25" height="9.25" fill="rgb(50,50,50)"/>
<rect x="1313.6" y="207.9" width="9.25" height="9.25" fill="rgb(11,11,11)"/>
<rect x="1322.45" y="207.9" width="9.25" height="9.25" fill="rgb(72,72,72)"/>
<rect x="1331.3" y="207.9" width="9.25" height="9.25" fill="rgb(255,255,255)"/>
<rect x="1340.15" y="207.9" width="9.25" height="9.25" fill="rgb(255,255,255)"/>
<rect x="1349" y="207.9" width="9.25" height="9.25" fill="rgb(72,72,72)"/>
<rect x="1357.85" y="207.9" width="9.25" height="9.25" fill="rgb(11,11,11)"/>
<rect x="1322.45" y="216.75" width="9.25" height="9.25" fill="rgb(59,59,59)"/>
<rect x="1331.3" y="216.75" width="9.25" height="9.25" fill="rgb(193,193,193)"/>
<rect x="1340.15" y="216.75" width="9.25" height="9.25" fill="rgb(193,193,193)"/>
<rect x="1349" y="216.75" width="9.25" height="9.25" fill="rgb(59,59,59)"/>
<rect x="1322.45" y="225.6" width="9.25" height="9.25" fill="rgb(25,25,25)"/>
<rect x="1331.3" y="225.6" width="9.25" height="9.25" fill="rgb(54,54,54)"/>
<rect x="1340.15" y="225.6" width="9.25" height="9.25" fill="rgb(54,54,54)"/>
<rect x="1349" y="225.6" width="9.25" height="9.25" fill="rgb(25,25,25)"/>
<rect x="1331.3" y="234.45" width="9.25" height="9.25" fill="rgb(11,11,11)"/>
<rect x="1340.15" y="234.45" width="9.25" height="9.25" fill="rgb(11,11,11)"/>
<rect x="1418.3" y="190.2" width="9.25" height="9.25" fill="rgb(16,16,16)"/>
<rect x="1427.15" y="190.2" width="9.25" height="9.25" fill="rgb(33,33,33)"/>
<rect x="1436" y="190.2" width="9.25" height="9.25" fill="rgb(31,31,31)"/>
<rect x="1444.85" y="190.2" width="9.25" height="9.25" fill="rgb(16,16,16)"/>
<rect x="1418.3" y="199.05" width="9.25" height="9.25" fill="rgb(46,46,46)"/>
<rect x="1427.15" y="199.05" width="9.25" height="9.25" fill="rgb(117,117,117)"/>
<rect x="1436" y="199.05" width="9.25" height="9.25" fill="rgb(111,111,111)"/>
<rect x="1444.85" y="199.05" width="9.25" height="9.25" fill="rgb(46,46,46)"/>
<rect x="1409.45" y="207.9" width="9.25" height="9.25" fill="rgb(9,9,9)"/>
<rect x="1418.3" y="207.9" width="9.25" height="9.25" fill="rgb(70,70,70)"/>
<rect x="1427.15" y="207.9" width="9.25" height="9.25" fill="rgb(235,235,235)"/>
<rect x="1436" y="207.9" width="9.25" height="9.25" fill="rgb(216,216,216)"/>
<rect x="1444.85" y="207.9" width="9.25" height="9.25" fill="rgb(70,70,70)"/>
<rect x="1453.7" y="207.9" width="9.25" height="9.25" fill="rgb(9,9,9)"/>
<rect x="1418.3" y="216.75" width="9.25" height="9.25" fill="rgb(61,61,61)"/>
<rect x="1427.15" y="216.75" width="9.25" height="9.25" fill="rgb(188,188,188)"/>
<rect x="1436" y="216.75" width="9.25" height="9.25" fill="rgb(178,178,178)"/>
<rect x="1444.85" y="216.75" width="9.25" height="9.25" fill="rgb(61,61,61)"/>
<rect x="1418.3" y="225.6" width="9.25" height="9.25" fill="rgb(23,23,23)"/>
<rect x="1427.15" y="225.6" width="9.25" height="9.25" fill="rgb(47,47,47)"/>
<rect x="1436" y="225.6" width="9.25" height="9.25" fill="rgb(44,44,44)"/>
<rect x="1444.85" y="225.6" width="9.25" height="9.25" fill="rgb(23,23,23)"/>
<rect x="1427.15" y="234.45" width="9.25" height="9.25" fill="rgb(9,9,9)"/>
<rect x="1505" y="190.2" width="9.25" height="9.25" fill="rgb(10,10,10)"/>
<rect x="1513.85" y="190.2" width="9.25" height="9.25" fill="rgb(17,17,17)"/>
<rect x="1522.7" y="190.2" width="9.25" height="9.25" fill="rgb(30,30,30)"/>
<rect x="1531.55" y="190.2" width="9.25" height="9.25" fill="rgb(30,30,30)"/>
<rect x="1540.4" y="190.2" width="9.25" height="9.25" fill="rgb(17,17,17)"/>
<rect x="1549.25" y="190.2" width="9.25" height="9.25" fill="rgb(13,13,13)"/>
<rect x="1558.1" y="190.2" width="9.25" height="9.25" fill="rgb(11,11,11)"/>
<rect x="1505" y="199.05" width="9.25" height="9.25" fill="rgb(17,17,17)"/>
<rect x="1513.85" y="199.05" width="9.25" height="9.25" fill="rgb(45,45,45)"/>
<rect x="1522.7" y="199.05" width="9.25" height="9.25" fill="rgb(84,84,84)"/>
<rect x="1531.55" y="199.05" width="9.25" height="9.25" fill="rgb(84,84,84)"/>
<rect x="1540.4" y="199.05" width="9.25" height="9.25" fill="rgb(45,45,45)"/>
<rect x="1549.25" y="199.05" width="9.25" height="9.25" fill="rgb(30,30,30)"/>
<rect x="1558.1" y="199.05" width="9.25" height="9.25" fill="rgb(19,19,19)"/>
<rect x="1496.15" y="207.9" width="9.25" height="9.25" fill="rgb(10,10,10)"/>
<rect x="1505" y="207.9" width="9.25" height="9.25" fill="rgb(28,28,28)"/>
<rect x="1513.85" y="207.9" width="9.25" height="9.25" fill="rgb(76,76,76)"/>
<rect x="1522.7" y="207.9" width="9.25" height="9.25" fill="rgb(199,199,199)"/>
<rect x="1531.55" y="207.9" width="9.25" height="9.25" fill="rgb(199,199,199)"/>
<rect x="1540.4" y="207.9" width="9.25" height="9.25" fill="rgb(76,76,76)"/>
<rect x="1549.25" y="207.9" width="9.25" height="9.25" fill="rgb(50,50,50)"/>
<rect x="1558.1" y="207.9" width="9.25" height="9.25" fill="rgb(32,32,32)"/>
<rect x="1566.95" y="207.9" width="9.25" height="9.25" fill="rgb(14,14,14)"/>
<rect x="1505" y="216.75" width="9.25" height="9.25" fill="rgb(25,25,25)"/>
<rect x="1513.85" y="216.75" width="9.25" height="9.25" fill="rgb(67,67,67)"/>
<rect x="1522.7" y="216.75" width="9.25" height="9.25" fill="rgb(163,163,163)"/>
<rect x="1531.55" y="216.75" width="9.25" height="9.25" fill="rgb(163,163,163)"/>
<rect x="1540.4" y="216.75" width="9.25" height="9.25" fill="rgb(67,67,67)"/>
<rect x="1549.25" y="216.75" width="9.25" height="9.25" fill="rgb(44,44,44)"/>
<rect x="1558.1" y="216.75" width="9.25" height="9.25" fill="rgb(28,28,28)"/>
<rect x="1566.95" y="216.75" width="9.25" height="9.25" fill="rgb(12,12,12)"/>
<rect x="1505" y="225.6" width="9.25" height="9.25" fill="rgb(12,12,12)"/>
<rect x="1513.85" y="225.6" width="9.25" height="9.25" fill="rgb(25,25,25)"/>
<rect x="1522.7" y="225.6" width="9.25" height="9.25" fill="rgb(44,44,44)"/>
<rect x="1531.55" y="225.6" width="9.25" height="9.25" fill="rgb(44,44,44)"/>
<rect x="1540.4" y="225.6" width="9.25" height="9.25" fill="rgb(25,25,25)"/>
<rect x="1549.25" y="225.6" width="9.25" height="9.25" fill="rgb(20,20,20)"/>
<rect x="1558.1" y="225.6" width="9.25" height="9.25" fill="rgb(13,13,13)"/>
<rect x="1522.7" y="234.45" width="9.25" height="9.25" fill="rgb(10,10,10)"/>
<rect x="1531.55" y="234.45" width="9.25" height="9.25" fill="rgb(10,10,10)"/>
<rect x="1600.7" y="190.2" width="9.25" height="9.25" fill="rgb(9,9,9)"/>
<rect x="1609.55" y="190.2" width="9.25" height="9.25" fill="rgb(13,13,13)"/>
<rect x="1618.4" y="190.2" width="9.25" height="9.25" fill="rgb(26,26,26)"/>
<rect x="1627.25" y="190.2" width="9.25" height="9.25" fill="rgb(26,26,26)"/>
<rect x="1636.1" y="190.2" width="9.25" height="9.25" fill="rgb(21,21,21)"/>
<rect x="1644.95" y="190.2" width="9.25" height="9.25" fill="rgb(14,14,14)"/>
<rect x="1653.8" y="190.2" width="9.25" height="9.25" fill="rgb(12,12,12)"/>
<rect x="1662.65" y="190.2" width="9.25" height="9.25" fill="rgb(10,10,10)"/>
<rect x="1600.7" y="199.05" width="9.25" height="9.25" fill="rgb(16,16,16)"/>
<rect x="1609.55" y="199.05" width="9.25" height="9.25" fill="rgb(33,33,33)"/>
<rect x="1618.4" y="199.05" width="9.25" height="9.25" fill="rgb(72,72,72)"/>
<rect x="1627.25" y="199.05" width="9.25" height="9.25" fill="rgb(72,72,72)"/>
<rect x="1636.1" y="199.05" width="9.25" height="9.25" fill="rgb(57,57,57)"/>
<rect x="1644.95" y="199.05" width="9.25" height="9.25" fill="rgb(39,39,39)"/>
<rect x="1653.8" y="199.05" width="9.25" height="9.25" fill="rgb(28,28,28)"/>
<rect x="1662.65" y="199.05" width="9.25" height="9.25" fill="rgb(18,18,18)"/>
<rect x="1591.85" y="207.9" width="9.25" height="9.25" fill="rgb(10,10,10)"/>
<rect x="1600.7" y="207.9" width="9.25" height="9.25" fill="rgb(27,27,27)"/>
<rect x="1609.55" y="207.9" width="9.25" height="9.25" fill="rgb(55,55,55)"/>
<rect x="1618.4" y="207.9" width="9.25" height="9.25" fill="rgb(171,171,171)"/>
<rect x="1627.25" y="207.9" width="9.25" height="9.25" fill="rgb(171,171,171)"/>
<rect x="1636.1" y="207.9" width="9.25" height="9.25" fill="rgb(120,120,120)"/>
<rect x="1644.95" y="207.9" width="9.25" height="9.25" fill="rgb(65,65,65)"/>
<rect x="1653.8" y="207.9" width="9.25" height="9.25" fill="rgb(48,48,48)"/>
<rect x="1662.65" y="207.9" width="9.25" height="9.25" fill="rgb(31,31,31)"/>
<rect x="1671.5" y="207.9" width="9.25" height="9.25" fill="rgb(14,14,14)"/>
<rect x="1591.85" y="216.75" width="9.25" height="9.25" fill="rgb(9,9,9)"/>
<rect x="1600.7" y="216.75" width="9.25" height="9.25" fill="rgb(24,24,24)"/>
<rect x="1609.55" y="216.75" width="9.25" height="9.25" fill="rgb(48,48,48)"/>
<rect x="1618.4" y="216.75" width="9.25" height="9.25" fill="rgb(140,140,140)"/>
<rect x="1627.25" y="216.75" width="9.25" height="9.25" fill="rgb(140,140,140)"/>
<rect x="1636.1" y="216.75" width="9.25" height="9.25" fill="rgb(105,105,105)"/>
<rect x="1644.95" y="216.75" width="9.25" height="9.25" fill="rgb(57,57,57)"/>
<rect x="1653.8" y="216.75" width="9.25" height="9.25" fill="rgb(42,42,42)"/>
<rect x="1662.65" y="216.75" width="9.25" height="9.25" fill="rgb(27,27,27)"/>
<rect x="1671.5" y="216.75" width="9.25" height="9.25" fill="rgb(12,12,12)"/>
<rect x="1600.7" y="225.6" width="9.25" height="9.25" fill="rgb(12,12,12)"/>
<rect x="1609.55" y="225.6" width="9.25" height="9.25" fill="rgb(19,19,19)"/>
<rect x="1618.4" y="225.6" width="9.25" height="9.25" fill="rgb(38,38,38)"/>
<rect x="1627.25" y="225.6" width="9.25" height="9.25" fill="rgb(38,38,38)"/>
<rect x="1636.1" y="225.6" width="9.25" height="9.25" fill="rgb(30,30,30)"/>
<rect x="1644.95" y="225.6" width="9.25" height="9.25" fill="rgb(21,21,21)"/>
<rect x="1653.8" y="225.6" width="9.25" height="9.25" fill="rgb(18,18,18)"/>
<rect x="1662.65" y="225.6" width="9.25" height="9.25" fill="rgb(13,13,13)"/>
</g>
<line x1="1121.5" y1="268" x2="1121.5" y2="242" stroke="#16a853" stroke-width="2.9"/>
<path d="M1121.5 234.4L1125.6 243.2L1117.4 243.2Z" fill="#16a853"/>
<line x1="1121.5" y1="268.6" x2="1139.5" y2="268.6" stroke="#f3141e" stroke-width="2.9"/>
<path d="M1146.2 268.6L1137.6 272.7L1137.6 264.5Z" fill="#f3141e"/>
<circle cx="1121.5" cy="268.6" r="4.2" fill="#f3141e"/>
<text transform="translate(1127.85 229.69) rotate(-90)" font-size="24.44" font-weight="bold" fill="#16a853" stroke="#16a853" stroke-width="0.29" stroke-linejoin="round" textLength="116.63" lengthAdjust="spacingAndGlyphs">Tangential</text>
<text x="1154.8" y="283.3" font-size="23.84" font-weight="bold" fill="#f3141e" stroke="#f3141e" stroke-width="0.61" stroke-linejoin="round" textLength="71.49" lengthAdjust="spacingAndGlyphs">Radial</text>
<text x="1156.26" y="348.3" font-size="27.87" font-weight="bold" fill="#000" textLength="35.17" lengthAdjust="spacingAndGlyphs">(c)</text>
<path d="M1267.6 611.93H1686.3M1267.6 577.25H1686.3M1267.6 542.58H1686.3M1267.6 507.9H1686.3M1267.6 473.23H1686.3M1267.6 438.55H1686.3M1267.6 403.88H1686.3M1351.34 369.2V646.6M1435.08 369.2V646.6M1518.82 369.2V646.6M1602.56 369.2V646.6" stroke="#d9d9d9" stroke-width="1" fill="none"/>
<rect x="1267.6" y="369.2" width="418.7" height="277.4" fill="none" stroke="#262626" stroke-width="1.2"/>
<text x="1214.77" y="653.2" font-size="18.78" font-weight="bold" fill="#000" stroke="#000" stroke-width="0.4" stroke-linejoin="round" textLength="29.17" lengthAdjust="spacingAndGlyphs">0.0</text>
<text x="1214.5" y="618.52" font-size="18.78" font-weight="bold" fill="#000" stroke="#000" stroke-width="0.4" stroke-linejoin="round" textLength="29.18" lengthAdjust="spacingAndGlyphs">0.5</text>
<text x="1214.78" y="583.85" font-size="18.78" font-weight="bold" fill="#000" stroke="#000" stroke-width="0.4" stroke-linejoin="round" textLength="29.17" lengthAdjust="spacingAndGlyphs">1.0</text>
<text x="1214.51" y="549.17" font-size="18.78" font-weight="bold" fill="#000" stroke="#000" stroke-width="0.4" stroke-linejoin="round" textLength="29.17" lengthAdjust="spacingAndGlyphs">1.5</text>
<text x="1214.77" y="514.5" font-size="18.78" font-weight="bold" fill="#000" stroke="#000" stroke-width="0.4" stroke-linejoin="round" textLength="29.17" lengthAdjust="spacingAndGlyphs">2.0</text>
<text x="1214.5" y="479.83" font-size="18.78" font-weight="bold" fill="#000" stroke="#000" stroke-width="0.4" stroke-linejoin="round" textLength="29.18" lengthAdjust="spacingAndGlyphs">2.5</text>
<text x="1214.76" y="445.15" font-size="18.78" font-weight="bold" fill="#000" stroke="#000" stroke-width="0.4" stroke-linejoin="round" textLength="29.18" lengthAdjust="spacingAndGlyphs">3.0</text>
<text x="1214.5" y="410.48" font-size="18.78" font-weight="bold" fill="#000" stroke="#000" stroke-width="0.4" stroke-linejoin="round" textLength="29.18" lengthAdjust="spacingAndGlyphs">3.5</text>
<text x="1214.76" y="375.8" font-size="18.78" font-weight="bold" fill="#000" stroke="#000" stroke-width="0.4" stroke-linejoin="round" textLength="29.18" lengthAdjust="spacingAndGlyphs">4.0</text>
<text x="1253.29" y="678.1" font-size="18.21" font-weight="bold" fill="#000" stroke="#000" stroke-width="0.4" stroke-linejoin="round" textLength="28.62" lengthAdjust="spacingAndGlyphs">-10</text>
<text x="1346" y="678.1" font-size="18.21" font-weight="bold" fill="#000" stroke="#000" stroke-width="0.4" stroke-linejoin="round" textLength="10.71" lengthAdjust="spacingAndGlyphs">0</text>
<text x="1423.93" y="678.1" font-size="18.21" font-weight="bold" fill="#000" stroke="#000" stroke-width="0.4" stroke-linejoin="round" textLength="21.91" lengthAdjust="spacingAndGlyphs">10</text>
<text x="1507.93" y="678.1" font-size="18.21" font-weight="bold" fill="#000" stroke="#000" stroke-width="0.4" stroke-linejoin="round" textLength="21.92" lengthAdjust="spacingAndGlyphs">20</text>
<text x="1591.79" y="678.1" font-size="18.21" font-weight="bold" fill="#000" stroke="#000" stroke-width="0.4" stroke-linejoin="round" textLength="21.93" lengthAdjust="spacingAndGlyphs">30</text>
<text x="1675.6" y="678.1" font-size="18.21" font-weight="bold" fill="#000" stroke="#000" stroke-width="0.4" stroke-linejoin="round" textLength="21.93" lengthAdjust="spacingAndGlyphs">40</text>
<text x="1383.36" y="706.9" font-size="19.05" font-weight="bold" fill="#000" stroke="#000" stroke-width="0.4" stroke-linejoin="round" textLength="186.73" lengthAdjust="spacingAndGlyphs">Radial offset (mm)</text>
<text transform="translate(1204.1 604.74) rotate(-90)" font-size="19.2" font-weight="bold" fill="#000" stroke="#000" stroke-width="0.4" stroke-linejoin="round" textLength="193.82" lengthAdjust="spacingAndGlyphs">Radial FWHM (mm)</text>
<path d="M1351.34 488.48L1435.08 485.71L1518.82 474.61L1602.56 468.37" stroke="#4472c4" stroke-width="2.4" fill="none" stroke-linejoin="round"/>
<circle cx="1351.34" cy="488.48" r="4.1" fill="#4472c4"/>
<circle cx="1435.08" cy="485.71" r="4.1" fill="#4472c4"/>
<circle cx="1518.82" cy="474.61" r="4.1" fill="#4472c4"/>
<circle cx="1602.56" cy="468.37" r="4.1" fill="#4472c4"/>
<path d="M1351.34 487.79L1435.08 497.5L1518.82 440.63L1602.56 392.78" stroke="#ed7d31" stroke-width="2.4" fill="none" stroke-linejoin="round"/>
<circle cx="1351.34" cy="487.79" r="4.1" fill="#ed7d31"/>
<circle cx="1435.08" cy="497.5" r="4.1" fill="#ed7d31"/>
<circle cx="1518.82" cy="440.63" r="4.1" fill="#ed7d31"/>
<circle cx="1602.56" cy="392.78" r="4.1" fill="#ed7d31"/>
<rect x="1430.3" y="543.5" width="249.8" height="72.8" fill="#fff" stroke="#262626" stroke-width="1.1"/>
<line x1="1445.5" y1="561.3" x2="1475.6" y2="561.3" stroke="#4472c4" stroke-width="2.2"/>
<circle cx="1460.6" cy="561.3" r="3.6" fill="#4472c4"/>
<text x="1477.56" y="568.2" font-size="21.24" font-weight="bold" fill="#000" stroke="#000" stroke-width="0.4" stroke-linejoin="round" textLength="171.83" lengthAdjust="spacingAndGlyphs">Z=0 mm (W/ DOI)</text>
<line x1="1445.5" y1="598" x2="1475.6" y2="598" stroke="#ed7d31" stroke-width="2.2"/>
<circle cx="1460.6" cy="598" r="3.6" fill="#ed7d31"/>
<text x="1477.56" y="604.9" font-size="21.24" font-weight="bold" fill="#000" stroke="#000" stroke-width="0.4" stroke-linejoin="round" textLength="188.34" lengthAdjust="spacingAndGlyphs">Z=0 mm (W/O DOI)</text>
</svg>
</body>
</html>
